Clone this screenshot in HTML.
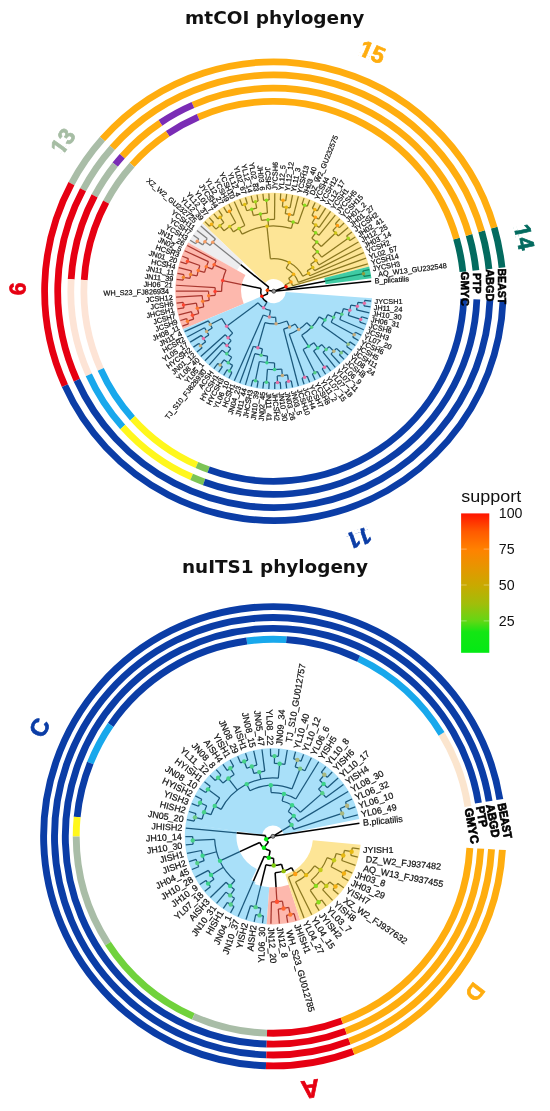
<!DOCTYPE html>
<html lang="en"><head><meta charset="utf-8"><title>mtCOI and nuITS1 phylogeny</title>
<style>html,body{margin:0;padding:0;background:#fff}svg{display:block}text{font-family:"Liberation Sans",Arial,sans-serif}.t{font-family:"DejaVu Sans","Liberation Sans",sans-serif;font-weight:bold}.b{font-family:"Liberation Sans",Arial,sans-serif;font-weight:bold}</style></head><body>
<svg width="550" height="1111" viewBox="0 0 550 1111">
<rect width="550" height="1111" fill="#fff"/>
<text class="t" x="274.75" y="23.8" font-size="18.5" text-anchor="middle" fill="#111">mtCOI phylogeny</text>
<g>
<path d="M501.99 267.7A229.3 229.3 0 0 0 494.21 227.68" stroke="#036B5F" stroke-width="6.75" fill="none"/>
<path d="M494.21 227.68A229.3 229.3 0 0 0 102.43 139.03" stroke="#FFAD0F" stroke-width="6.75" fill="none"/>
<path d="M102.43 139.03A229.3 229.3 0 0 0 71.44 183.62" stroke="#A9BDA7" stroke-width="6.75" fill="none"/>
<path d="M71.44 183.62A229.3 229.3 0 0 0 64.92 385.63" stroke="#E60012" stroke-width="6.75" fill="none"/>
<path d="M64.92 385.63A229.3 229.3 0 0 0 503.02 300.47" stroke="#0B3DA6" stroke-width="6.75" fill="none"/>
<path d="M488.95 269.05A216.2 216.2 0 0 0 481.62 231.31" stroke="#036B5F" stroke-width="6.75" fill="none"/>
<path d="M481.62 231.31A216.2 216.2 0 0 0 112.23 147.73" stroke="#FFAD0F" stroke-width="6.75" fill="none"/>
<path d="M112.23 147.73A216.2 216.2 0 0 0 83.01 189.77" stroke="#A9BDA7" stroke-width="6.75" fill="none"/>
<path d="M83.01 189.77A216.2 216.2 0 0 0 76.85 380.24" stroke="#E60012" stroke-width="6.75" fill="none"/>
<path d="M76.85 380.24A216.2 216.2 0 0 0 489.93 299.95" stroke="#0B3DA6" stroke-width="6.75" fill="none"/>
<path d="M475.92 270.39A203.1 203.1 0 0 0 469.03 234.95" stroke="#036B5F" stroke-width="6.75" fill="none"/>
<path d="M469.03 234.95A203.1 203.1 0 0 0 192.91 105.02" stroke="#FFAD0F" stroke-width="6.75" fill="none"/>
<path d="M192.91 105.02A203.1 203.1 0 0 0 160.33 122.89" stroke="#7A2CB5" stroke-width="6.75" fill="none"/>
<path d="M160.33 122.89A203.1 203.1 0 0 0 122.26 156.16" stroke="#FFAD0F" stroke-width="6.75" fill="none"/>
<path d="M122.26 156.16A203.1 203.1 0 0 0 115.17 164.56" stroke="#7A2CB5" stroke-width="6.75" fill="none"/>
<path d="M115.17 164.56A203.1 203.1 0 0 0 94.57 195.92" stroke="#A9BDA7" stroke-width="6.75" fill="none"/>
<path d="M94.57 195.92A203.1 203.1 0 0 0 71.16 279.22" stroke="#E60012" stroke-width="6.75" fill="none"/>
<path d="M71.16 279.22A203.1 203.1 0 0 0 88.79 374.85" stroke="#FDE4D6" stroke-width="6.75" fill="none"/>
<path d="M88.79 374.85A203.1 203.1 0 0 0 122.73 426.91" stroke="#18A8EC" stroke-width="6.75" fill="none"/>
<path d="M122.73 426.91A203.1 203.1 0 0 0 191.62 476.95" stroke="#FFF71C" stroke-width="6.75" fill="none"/>
<path d="M191.62 476.95A203.1 203.1 0 0 0 204.1 482" stroke="#7CC455" stroke-width="6.75" fill="none"/>
<path d="M204.1 482A203.1 203.1 0 0 0 476.84 299.42" stroke="#0B3DA6" stroke-width="6.75" fill="none"/>
<path d="M462.89 271.74A190 190 0 0 0 456.45 238.58" stroke="#036B5F" stroke-width="6.75" fill="none"/>
<path d="M456.45 238.58A190 190 0 0 0 198.14 117.03" stroke="#FFAD0F" stroke-width="6.75" fill="none"/>
<path d="M198.14 117.03A190 190 0 0 0 167.65 133.75" stroke="#7A2CB5" stroke-width="6.75" fill="none"/>
<path d="M167.65 133.75A190 190 0 0 0 132.04 164.88" stroke="#FFAD0F" stroke-width="6.75" fill="none"/>
<path d="M132.04 164.88A190 190 0 0 0 106.14 202.07" stroke="#A9BDA7" stroke-width="6.75" fill="none"/>
<path d="M106.14 202.07A190 190 0 0 0 84.23 280" stroke="#E60012" stroke-width="6.75" fill="none"/>
<path d="M84.23 280A190 190 0 0 0 100.73 369.46" stroke="#FDE4D6" stroke-width="6.75" fill="none"/>
<path d="M100.73 369.46A190 190 0 0 0 132.48 418.16" stroke="#18A8EC" stroke-width="6.75" fill="none"/>
<path d="M132.48 418.16A190 190 0 0 0 196.92 464.98" stroke="#FFF71C" stroke-width="6.75" fill="none"/>
<path d="M196.92 464.98A190 190 0 0 0 208.6 469.7" stroke="#7CC455" stroke-width="6.75" fill="none"/>
<path d="M208.6 469.7A190 190 0 0 0 463.75 298.9" stroke="#0B3DA6" stroke-width="6.75" fill="none"/>
</g>
<text class="b" transform="translate(498.4 268.5) rotate(90)" font-size="11.4" textLength="35.6" lengthAdjust="spacingAndGlyphs" fill="#000" stroke="#000" stroke-width="0.55">BEAST</text>
<text class="b" transform="translate(485.9 269.2) rotate(90)" font-size="11.4" textLength="32.3" lengthAdjust="spacingAndGlyphs" fill="#000" stroke="#000" stroke-width="0.55">ABGD</text>
<text class="b" transform="translate(472.5 272.9) rotate(90)" font-size="11.4" textLength="20.6" lengthAdjust="spacingAndGlyphs" fill="#000" stroke="#000" stroke-width="0.55">PTP</text>
<text class="b" transform="translate(460.9 271.6) rotate(90)" font-size="11.4" textLength="34.4" lengthAdjust="spacingAndGlyphs" fill="#000" stroke="#000" stroke-width="0.55">GMYC</text>
<g transform="translate(372.5 51.74) rotate(22.4)">
<text class="b" font-size="23" text-anchor="middle" dy="0.36em" fill="#FFAD0F" stroke="#FFAD0F" stroke-width="0.7">15</text>
<rect x="-13.09" y="5.36" width="4.94" height="3.62" fill="#fff"/>
<rect x="-4" y="5.36" width="4.6" height="3.62" fill="#fff"/>
</g>
<g transform="translate(62.6 141.11) rotate(-54.6)">
<text class="b" font-size="23" text-anchor="middle" dy="0.36em" fill="#A6BDA4" stroke="#A6BDA4" stroke-width="0.7">13</text>
<rect x="-13.09" y="5.36" width="4.94" height="3.62" fill="#fff"/>
<rect x="-4" y="5.36" width="4.6" height="3.62" fill="#fff"/>
</g>
<g transform="translate(17.31 288.74) rotate(-89.45)">
<text class="b" font-size="23" text-anchor="middle" dy="0.36em" fill="#E60012" stroke="#E60012" stroke-width="0.7">6</text>
</g>
<g transform="translate(524.51 237) rotate(77.8)">
<text class="b" font-size="23" text-anchor="middle" dy="0.36em" fill="#036B5F" stroke="#036B5F" stroke-width="0.7">14</text>
<rect x="-13.09" y="5.36" width="4.94" height="3.62" fill="#fff"/>
<rect x="-4" y="5.36" width="4.6" height="3.62" fill="#fff"/>
</g>
<g transform="translate(359.09 538.19) rotate(-199.05)">
<text class="b" font-size="23" text-anchor="middle" dy="0.36em" fill="#0B3DA6" stroke="#0B3DA6" stroke-width="0.7">11</text>
<rect x="-13.09" y="5.36" width="4.94" height="3.62" fill="#fff"/>
<rect x="-4" y="5.36" width="4.6" height="3.62" fill="#fff"/>
<rect x="-0.3" y="5.36" width="4.94" height="3.62" fill="#fff"/>
<rect x="8.79" y="5.36" width="4.6" height="3.62" fill="#fff"/>
</g>
<g>
<path d="M369.16 266.52A98.5 98.5 0 0 0 202.41 223.33L265.1 282.93A12 12 0 0 1 285.42 288.19Z" fill="#FDE596" fill-opacity="1"/>
<path d="M371.45 278.27A98.5 98.5 0 0 0 369.16 266.52L324.33 278.12A52.19 52.19 0 0 1 325.54 284.35Z" fill="#3FCBA3" fill-opacity="1"/>
<path d="M202.41 223.33A98.5 98.5 0 0 0 188.17 242.53L236.94 270.25A42.4 42.4 0 0 1 243.07 261.99Z" fill="#EDEDEF" fill-opacity="1"/>
<path d="M188.17 242.53A98.5 98.5 0 0 0 182.89 329.13L243.71 303.75A32.6 32.6 0 0 1 245.46 275.09Z" fill="#FDB8AD" fill-opacity="1"/>
<path d="M182.89 329.13A98.5 98.5 0 0 0 372.05 298.17L285.77 292.05A12 12 0 0 1 262.73 295.82Z" fill="#A9E0F9" fill-opacity="1"/>
</g>
<g fill="none" stroke-linecap="butt">
<path d="M273.8 291.2L371.2 281.31" stroke="#000" stroke-width="1.55"/>
<path d="M273.8 291.2L286.04 286.8" stroke="#000" stroke-width="1.55"/>
<path d="M286.57 288.71A13.01 13.01 0 0 0 285.24 285" stroke="#000" stroke-width="1.55"/>
<path d="M286.57 288.71L325.03 281.22" stroke="#000" stroke-width="1.55"/>
<path d="M325.03 281.22L363.48 273.73" stroke="#0D7F5D" stroke-width="1.25"/>
<path d="M363.97 276.46A91.37 91.37 0 0 0 362.91 271.01" stroke="#0D7F5D" stroke-width="1.25"/>
<path d="M363.97 276.46L370.42 275.41" stroke="#0D7F5D" stroke-width="1.25"/>
<path d="M362.91 271.01L369.28 269.56" stroke="#0D7F5D" stroke-width="1.25"/>
<path d="M285.24 285L285.67 284.76" stroke="#000" stroke-width="1.55"/>
<path d="M285.67 284.76L290.98 281.88" stroke="#8A7720" stroke-width="1.25"/>
<path d="M292.56 285.73A19.54 19.54 0 0 0 288.61 278.46" stroke="#8A7720" stroke-width="1.25"/>
<path d="M292.56 285.73L367.79 263.8" stroke="#8A7720" stroke-width="1.25"/>
<path d="M288.61 278.46L293.56 274.2" stroke="#8A7720" stroke-width="1.25"/>
<path d="M298.34 282.4A26.07 26.07 0 0 0 286.17 268.25" stroke="#8A7720" stroke-width="1.25"/>
<path d="M298.34 282.4L365.95 258.14" stroke="#8A7720" stroke-width="1.25"/>
<path d="M286.17 268.25L289.27 262.5" stroke="#8A7720" stroke-width="1.25"/>
<path d="M302.76 276.24A32.6 32.6 0 0 0 270.38 258.78" stroke="#8A7720" stroke-width="1.25"/>
<path d="M302.76 276.24L308.56 273.24" stroke="#8A7720" stroke-width="1.25"/>
<path d="M309.76 275.77A39.13 39.13 0 0 0 307.19 270.8" stroke="#8A7720" stroke-width="1.25"/>
<path d="M309.76 275.77L363.77 252.6" stroke="#8A7720" stroke-width="1.25"/>
<path d="M307.19 270.8L312.76 267.39" stroke="#8A7720" stroke-width="1.25"/>
<path d="M314.59 270.68A45.66 45.66 0 0 0 310.67 264.27" stroke="#8A7720" stroke-width="1.25"/>
<path d="M314.59 270.68L361.26 247.21" stroke="#8A7720" stroke-width="1.25"/>
<path d="M310.67 264.27L315.94 260.41" stroke="#8A7720" stroke-width="1.25"/>
<path d="M318.91 264.96A52.19 52.19 0 0 0 312.52 256.2" stroke="#8A7720" stroke-width="1.25"/>
<path d="M318.91 264.96L358.42 241.97" stroke="#8A7720" stroke-width="1.25"/>
<path d="M312.52 256.2L317.36 251.83" stroke="#8A7720" stroke-width="1.25"/>
<path d="M321.66 257.17A58.72 58.72 0 0 0 312.47 247.01" stroke="#8A7720" stroke-width="1.25"/>
<path d="M321.66 257.17L348.27 238.25" stroke="#8A7720" stroke-width="1.25"/>
<path d="M349.84 240.54A91.37 91.37 0 0 0 346.62 236.01" stroke="#8A7720" stroke-width="1.25"/>
<path d="M349.84 240.54L355.27 236.92" stroke="#8A7720" stroke-width="1.25"/>
<path d="M346.62 236.01L351.83 232.07" stroke="#8A7720" stroke-width="1.25"/>
<path d="M312.47 247.01L316.77 242.1" stroke="#8A7720" stroke-width="1.25"/>
<path d="M321.32 246.49A65.25 65.25 0 0 0 311.82 238.17" stroke="#8A7720" stroke-width="1.25"/>
<path d="M321.32 246.49L335.59 233.07" stroke="#8A7720" stroke-width="1.25"/>
<path d="M338.18 235.94A84.84 84.84 0 0 0 332.88 230.31" stroke="#8A7720" stroke-width="1.25"/>
<path d="M338.18 235.94L348.09 227.44" stroke="#8A7720" stroke-width="1.25"/>
<path d="M332.88 230.31L337.42 225.62" stroke="#8A7720" stroke-width="1.25"/>
<path d="M339.39 227.59A91.37 91.37 0 0 0 335.4 223.72" stroke="#8A7720" stroke-width="1.25"/>
<path d="M339.39 227.59L344.08 223.04" stroke="#8A7720" stroke-width="1.25"/>
<path d="M335.4 223.72L339.8 218.9" stroke="#8A7720" stroke-width="1.25"/>
<path d="M311.82 238.17L315.63 232.87" stroke="#8A7720" stroke-width="1.25"/>
<path d="M318.88 235.34A71.78 71.78 0 0 0 312.24 230.58" stroke="#8A7720" stroke-width="1.25"/>
<path d="M318.88 235.34L335.29 215.02" stroke="#8A7720" stroke-width="1.25"/>
<path d="M312.24 230.58L315.73 225.06" stroke="#8A7720" stroke-width="1.25"/>
<path d="M319.19 227.39A78.31 78.31 0 0 0 312.16 222.93" stroke="#8A7720" stroke-width="1.25"/>
<path d="M319.19 227.39L330.55 211.42" stroke="#8A7720" stroke-width="1.25"/>
<path d="M312.16 222.93L315.35 217.23" stroke="#8A7720" stroke-width="1.25"/>
<path d="M318.68 219.2A84.84 84.84 0 0 0 311.94 215.42" stroke="#8A7720" stroke-width="1.25"/>
<path d="M318.68 219.2L325.59 208.12" stroke="#8A7720" stroke-width="1.25"/>
<path d="M311.94 215.42L314.87 209.58" stroke="#8A7720" stroke-width="1.25"/>
<path d="M317.34 210.87A91.37 91.37 0 0 0 312.37 208.37" stroke="#8A7720" stroke-width="1.25"/>
<path d="M317.34 210.87L320.45 205.13" stroke="#8A7720" stroke-width="1.25"/>
<path d="M312.37 208.37L315.13 202.45" stroke="#8A7720" stroke-width="1.25"/>
<path d="M270.38 258.78L266.96 226.31" stroke="#8A7720" stroke-width="1.25"/>
<path d="M291.36 228.36A65.25 65.25 0 0 0 242.14 234.15" stroke="#8A7720" stroke-width="1.25"/>
<path d="M291.36 228.36L293.11 222.07" stroke="#8A7720" stroke-width="1.25"/>
<path d="M298.05 223.64A71.78 71.78 0 0 0 288.08 220.85" stroke="#8A7720" stroke-width="1.25"/>
<path d="M298.05 223.64L304.67 205.2" stroke="#8A7720" stroke-width="1.25"/>
<path d="M307.27 206.18A91.37 91.37 0 0 0 302.04 204.3" stroke="#8A7720" stroke-width="1.25"/>
<path d="M307.27 206.18L309.66 200.1" stroke="#8A7720" stroke-width="1.25"/>
<path d="M302.04 204.3L304.06 198.09" stroke="#8A7720" stroke-width="1.25"/>
<path d="M288.08 220.85L289.37 214.45" stroke="#8A7720" stroke-width="1.25"/>
<path d="M293.43 215.39A78.31 78.31 0 0 0 285.27 213.73" stroke="#8A7720" stroke-width="1.25"/>
<path d="M293.43 215.39L298.35 196.43" stroke="#8A7720" stroke-width="1.25"/>
<path d="M285.27 213.73L286.23 207.28" stroke="#8A7720" stroke-width="1.25"/>
<path d="M290.04 207.93A84.84 84.84 0 0 0 282.39 206.8" stroke="#8A7720" stroke-width="1.25"/>
<path d="M290.04 207.93L292.54 195.11" stroke="#8A7720" stroke-width="1.25"/>
<path d="M282.39 206.8L283.05 200.3" stroke="#8A7720" stroke-width="1.25"/>
<path d="M285.81 200.62A91.37 91.37 0 0 0 280.28 200.06" stroke="#8A7720" stroke-width="1.25"/>
<path d="M285.81 200.62L286.67 194.15" stroke="#8A7720" stroke-width="1.25"/>
<path d="M280.28 200.06L280.75 193.55" stroke="#8A7720" stroke-width="1.25"/>
<path d="M268.52 226.16L267.99 219.66" stroke="#8A7720" stroke-width="1.25"/>
<path d="M274.53 219.42A71.78 71.78 0 0 0 261.5 220.48" stroke="#8A7720" stroke-width="1.25"/>
<path d="M274.53 219.42L274.8 193.31" stroke="#8A7720" stroke-width="1.25"/>
<path d="M261.5 220.48L260.38 214.05" stroke="#8A7720" stroke-width="1.25"/>
<path d="M267.46 213.15A78.31 78.31 0 0 0 253.41 215.59" stroke="#8A7720" stroke-width="1.25"/>
<path d="M267.46 213.15L266.41 200.13" stroke="#8A7720" stroke-width="1.25"/>
<path d="M269.18 199.95A91.37 91.37 0 0 0 263.64 200.4" stroke="#8A7720" stroke-width="1.25"/>
<path d="M269.18 199.95L268.85 193.43" stroke="#8A7720" stroke-width="1.25"/>
<path d="M263.64 200.4L262.91 193.91" stroke="#8A7720" stroke-width="1.25"/>
<path d="M253.41 215.59L251.71 209.29" stroke="#8A7720" stroke-width="1.25"/>
<path d="M256.73 208.1A84.84 84.84 0 0 0 246.77 210.78" stroke="#8A7720" stroke-width="1.25"/>
<path d="M256.73 208.1L255.41 201.7" stroke="#8A7720" stroke-width="1.25"/>
<path d="M258.14 201.18A91.37 91.37 0 0 0 252.7 202.3" stroke="#8A7720" stroke-width="1.25"/>
<path d="M258.14 201.18L257.02 194.75" stroke="#8A7720" stroke-width="1.25"/>
<path d="M252.7 202.3L251.19 195.95" stroke="#8A7720" stroke-width="1.25"/>
<path d="M246.77 210.78L244.69 204.59" stroke="#8A7720" stroke-width="1.25"/>
<path d="M247.34 203.75A91.37 91.37 0 0 0 242.07 205.52" stroke="#8A7720" stroke-width="1.25"/>
<path d="M247.34 203.75L245.44 197.5" stroke="#8A7720" stroke-width="1.25"/>
<path d="M242.07 205.52L239.8 199.39" stroke="#8A7720" stroke-width="1.25"/>
<path d="M242.14 234.15L238.97 228.44" stroke="#8A7720" stroke-width="1.25"/>
<path d="M244.83 225.53A71.78 71.78 0 0 0 233.4 231.87" stroke="#8A7720" stroke-width="1.25"/>
<path d="M244.83 225.53L234.29 201.63" stroke="#8A7720" stroke-width="1.25"/>
<path d="M233.4 231.87L229.72 226.47" stroke="#8A7720" stroke-width="1.25"/>
<path d="M235.8 222.73A78.31 78.31 0 0 0 224.01 230.76" stroke="#8A7720" stroke-width="1.25"/>
<path d="M235.8 222.73L229.46 211.31" stroke="#8A7720" stroke-width="1.25"/>
<path d="M231.91 210A91.37 91.37 0 0 0 227.05 212.69" stroke="#8A7720" stroke-width="1.25"/>
<path d="M231.91 210L228.92 204.19" stroke="#8A7720" stroke-width="1.25"/>
<path d="M227.05 212.69L223.71 207.08" stroke="#8A7720" stroke-width="1.25"/>
<path d="M224.01 230.76L219.86 225.72" stroke="#8A7720" stroke-width="1.25"/>
<path d="M223.93 222.56A84.84 84.84 0 0 0 215.98 229.12" stroke="#8A7720" stroke-width="1.25"/>
<path d="M223.93 222.56L220.1 217.28" stroke="#8A7720" stroke-width="1.25"/>
<path d="M222.37 215.68A91.37 91.37 0 0 0 217.87 218.94" stroke="#8A7720" stroke-width="1.25"/>
<path d="M222.37 215.68L218.69 210.28" stroke="#8A7720" stroke-width="1.25"/>
<path d="M217.87 218.94L213.88 213.78" stroke="#8A7720" stroke-width="1.25"/>
<path d="M215.98 229.12L211.53 224.34" stroke="#8A7720" stroke-width="1.25"/>
<path d="M213.59 222.48A91.37 91.37 0 0 0 209.52 226.26" stroke="#8A7720" stroke-width="1.25"/>
<path d="M213.59 222.48L209.28 217.57" stroke="#8A7720" stroke-width="1.25"/>
<path d="M209.52 226.26L204.93 221.62" stroke="#8A7720" stroke-width="1.25"/>
<path d="M273.8 291.2L267.38 290.33" stroke="#000" stroke-width="1.55"/>
<path d="M268.75 287.14A6.48 6.48 0 0 0 267.85 293.76" stroke="#000" stroke-width="1.55"/>
<path d="M268.75 287.14L240.74 264.66" stroke="#000" stroke-width="1.55"/>
<path d="M240.74 264.66L212.74 242.17" stroke="#7d7d7d" stroke-width="1.25"/>
<path d="M215.43 239A78.31 78.31 0 0 0 210.21 245.49" stroke="#7d7d7d" stroke-width="1.25"/>
<path d="M215.43 239L200.83 225.94" stroke="#7d7d7d" stroke-width="1.25"/>
<path d="M210.21 245.49L204.91 241.68" stroke="#7d7d7d" stroke-width="1.25"/>
<path d="M207.24 238.59A84.84 84.84 0 0 0 202.73 244.87" stroke="#7d7d7d" stroke-width="1.25"/>
<path d="M207.24 238.59L197 230.49" stroke="#7d7d7d" stroke-width="1.25"/>
<path d="M202.73 244.87L197.26 241.31" stroke="#7d7d7d" stroke-width="1.25"/>
<path d="M198.81 239A91.37 91.37 0 0 0 195.77 243.66" stroke="#7d7d7d" stroke-width="1.25"/>
<path d="M198.81 239L193.45 235.27" stroke="#7d7d7d" stroke-width="1.25"/>
<path d="M195.77 243.66L190.2 240.26" stroke="#7d7d7d" stroke-width="1.25"/>
<path d="M267.85 293.76L261.85 296.34" stroke="#000" stroke-width="1.55"/>
<path d="M261.06 288.54A13.01 13.01 0 0 0 266.97 302.27" stroke="#000" stroke-width="1.55"/>
<path d="M261.06 288.54L241.89 284.54" stroke="#000" stroke-width="1.55"/>
<path d="M241.89 284.54L222.71 280.54" stroke="#A8362E" stroke-width="1.25"/>
<path d="M226.06 270.1A52.19 52.19 0 0 0 221.61 291.45" stroke="#A8362E" stroke-width="1.25"/>
<path d="M226.06 270.1L214.12 264.82" stroke="#A8362E" stroke-width="1.25"/>
<path d="M216.12 260.7A65.25 65.25 0 0 0 212.41 269.08" stroke="#A8362E" stroke-width="1.25"/>
<path d="M216.12 260.7L187.26 245.43" stroke="#A8362E" stroke-width="1.25"/>
<path d="M212.41 269.08L206.27 266.87" stroke="#A8362E" stroke-width="1.25"/>
<path d="M208.42 261.56A71.78 71.78 0 0 0 204.55 272.33" stroke="#A8362E" stroke-width="1.25"/>
<path d="M208.42 261.56L184.64 250.78" stroke="#A8362E" stroke-width="1.25"/>
<path d="M204.55 272.33L198.24 270.61" stroke="#A8362E" stroke-width="1.25"/>
<path d="M199.83 265.5A78.31 78.31 0 0 0 197.01 275.82" stroke="#A8362E" stroke-width="1.25"/>
<path d="M199.83 265.5L187.49 261.21" stroke="#A8362E" stroke-width="1.25"/>
<path d="M188.44 258.6A91.37 91.37 0 0 0 186.62 263.85" stroke="#A8362E" stroke-width="1.25"/>
<path d="M188.44 258.6L182.34 256.27" stroke="#A8362E" stroke-width="1.25"/>
<path d="M186.62 263.85L180.39 261.89" stroke="#A8362E" stroke-width="1.25"/>
<path d="M197.01 275.82L190.61 274.54" stroke="#A8362E" stroke-width="1.25"/>
<path d="M191.46 270.77A84.84 84.84 0 0 0 189.94 278.35" stroke="#A8362E" stroke-width="1.25"/>
<path d="M191.46 270.77L178.78 267.62" stroke="#A8362E" stroke-width="1.25"/>
<path d="M189.94 278.35L183.48 277.36" stroke="#A8362E" stroke-width="1.25"/>
<path d="M183.95 274.62A91.37 91.37 0 0 0 183.1 280.12" stroke="#A8362E" stroke-width="1.25"/>
<path d="M183.95 274.62L177.52 273.44" stroke="#A8362E" stroke-width="1.25"/>
<path d="M183.1 280.12L176.62 279.32" stroke="#A8362E" stroke-width="1.25"/>
<path d="M221.61 291.45L215.08 291.48" stroke="#A8362E" stroke-width="1.25"/>
<path d="M215.19 287.63A58.72 58.72 0 0 0 215.23 295.33" stroke="#A8362E" stroke-width="1.25"/>
<path d="M215.19 287.63L176.08 285.25" stroke="#A8362E" stroke-width="1.25"/>
<path d="M215.23 295.33L208.71 295.78" stroke="#A8362E" stroke-width="1.25"/>
<path d="M208.55 291.2A65.25 65.25 0 0 0 209.19 300.35" stroke="#A8362E" stroke-width="1.25"/>
<path d="M208.55 291.2L175.9 291.2" stroke="#A8362E" stroke-width="1.25"/>
<path d="M209.19 300.35L202.73 301.26" stroke="#A8362E" stroke-width="1.25"/>
<path d="M202.15 295.56A71.78 71.78 0 0 0 203.76 306.89" stroke="#A8362E" stroke-width="1.25"/>
<path d="M202.15 295.56L176.08 297.15" stroke="#A8362E" stroke-width="1.25"/>
<path d="M203.76 306.89L197.38 308.32" stroke="#A8362E" stroke-width="1.25"/>
<path d="M196.39 303.06A78.31 78.31 0 0 0 198.73 313.51" stroke="#A8362E" stroke-width="1.25"/>
<path d="M196.39 303.06L183.48 305.04" stroke="#A8362E" stroke-width="1.25"/>
<path d="M183.1 302.28A91.37 91.37 0 0 0 183.95 307.78" stroke="#A8362E" stroke-width="1.25"/>
<path d="M183.1 302.28L176.62 303.08" stroke="#A8362E" stroke-width="1.25"/>
<path d="M183.95 307.78L177.52 308.96" stroke="#A8362E" stroke-width="1.25"/>
<path d="M198.73 313.51L192.47 315.37" stroke="#A8362E" stroke-width="1.25"/>
<path d="M191.46 311.63A84.84 84.84 0 0 0 193.66 319.05" stroke="#A8362E" stroke-width="1.25"/>
<path d="M191.46 311.63L178.78 314.78" stroke="#A8362E" stroke-width="1.25"/>
<path d="M193.66 319.05L187.49 321.19" stroke="#A8362E" stroke-width="1.25"/>
<path d="M186.62 318.55A91.37 91.37 0 0 0 188.44 323.8" stroke="#A8362E" stroke-width="1.25"/>
<path d="M186.62 318.55L180.39 320.51" stroke="#A8362E" stroke-width="1.25"/>
<path d="M188.44 323.8L182.34 326.13" stroke="#A8362E" stroke-width="1.25"/>
<path d="M266.97 302.27L266.72 302.69" stroke="#000" stroke-width="1.55"/>
<path d="M266.72 302.69L263.55 307.83" stroke="#1B587C" stroke-width="1.25"/>
<path d="M258.11 302.85A19.54 19.54 0 0 0 270.44 310.45" stroke="#1B587C" stroke-width="1.25"/>
<path d="M258.11 302.85L226.65 326.2" stroke="#1B587C" stroke-width="1.25"/>
<path d="M221.79 318.45A58.72 58.72 0 0 0 232.65 333.09" stroke="#1B587C" stroke-width="1.25"/>
<path d="M221.79 318.45L210.22 324.52" stroke="#1B587C" stroke-width="1.25"/>
<path d="M208.42 320.84A71.78 71.78 0 0 0 212.22 328.08" stroke="#1B587C" stroke-width="1.25"/>
<path d="M208.42 320.84L184.64 331.62" stroke="#1B587C" stroke-width="1.25"/>
<path d="M212.22 328.08L206.62 331.44" stroke="#1B587C" stroke-width="1.25"/>
<path d="M204.57 327.81A78.31 78.31 0 0 0 208.85 334.96" stroke="#1B587C" stroke-width="1.25"/>
<path d="M204.57 327.81L187.26 336.97" stroke="#1B587C" stroke-width="1.25"/>
<path d="M208.85 334.96L203.44 338.6" stroke="#1B587C" stroke-width="1.25"/>
<path d="M201.35 335.35A84.84 84.84 0 0 0 205.67 341.76" stroke="#1B587C" stroke-width="1.25"/>
<path d="M201.35 335.35L190.2 342.14" stroke="#1B587C" stroke-width="1.25"/>
<path d="M205.67 341.76L200.43 345.65" stroke="#1B587C" stroke-width="1.25"/>
<path d="M198.81 343.4A91.37 91.37 0 0 0 202.12 347.86" stroke="#1B587C" stroke-width="1.25"/>
<path d="M198.81 343.4L193.45 347.13" stroke="#1B587C" stroke-width="1.25"/>
<path d="M202.12 347.86L197 351.91" stroke="#1B587C" stroke-width="1.25"/>
<path d="M232.65 333.09L228.07 337.75" stroke="#1B587C" stroke-width="1.25"/>
<path d="M225.16 334.7A65.25 65.25 0 0 0 231.17 340.6" stroke="#1B587C" stroke-width="1.25"/>
<path d="M225.16 334.7L200.83 356.46" stroke="#1B587C" stroke-width="1.25"/>
<path d="M231.17 340.6L226.91 345.55" stroke="#1B587C" stroke-width="1.25"/>
<path d="M223.3 342.21A71.78 71.78 0 0 0 230.73 348.62" stroke="#1B587C" stroke-width="1.25"/>
<path d="M223.3 342.21L204.93 360.78" stroke="#1B587C" stroke-width="1.25"/>
<path d="M230.73 348.62L226.81 353.85" stroke="#1B587C" stroke-width="1.25"/>
<path d="M222.19 350.1A78.31 78.31 0 0 0 231.71 357.24" stroke="#1B587C" stroke-width="1.25"/>
<path d="M222.19 350.1L209.28 364.83" stroke="#1B587C" stroke-width="1.25"/>
<path d="M231.71 357.24L228.2 362.74" stroke="#1B587C" stroke-width="1.25"/>
<path d="M223.93 359.84A84.84 84.84 0 0 0 232.63 365.38" stroke="#1B587C" stroke-width="1.25"/>
<path d="M223.93 359.84L220.1 365.12" stroke="#1B587C" stroke-width="1.25"/>
<path d="M217.87 363.46A91.37 91.37 0 0 0 222.37 366.72" stroke="#1B587C" stroke-width="1.25"/>
<path d="M217.87 363.46L213.88 368.62" stroke="#1B587C" stroke-width="1.25"/>
<path d="M222.37 366.72L218.69 372.12" stroke="#1B587C" stroke-width="1.25"/>
<path d="M232.63 365.38L229.46 371.09" stroke="#1B587C" stroke-width="1.25"/>
<path d="M227.05 369.71A91.37 91.37 0 0 0 231.91 372.4" stroke="#1B587C" stroke-width="1.25"/>
<path d="M227.05 369.71L223.71 375.32" stroke="#1B587C" stroke-width="1.25"/>
<path d="M231.91 372.4L228.92 378.21" stroke="#1B587C" stroke-width="1.25"/>
<path d="M270.44 310.45L269.32 316.88" stroke="#1B587C" stroke-width="1.25"/>
<path d="M263.28 315.05A26.07 26.07 0 0 0 275.63 317.21" stroke="#1B587C" stroke-width="1.25"/>
<path d="M263.28 315.05L234.29 380.77" stroke="#1B587C" stroke-width="1.25"/>
<path d="M275.63 317.21L276.09 323.72" stroke="#1B587C" stroke-width="1.25"/>
<path d="M264.95 322.58A32.6 32.6 0 0 0 286.95 321.03" stroke="#1B587C" stroke-width="1.25"/>
<path d="M264.95 322.58L257.86 347.72" stroke="#1B587C" stroke-width="1.25"/>
<path d="M253.41 346.27A58.72 58.72 0 0 0 262.42 348.81" stroke="#1B587C" stroke-width="1.25"/>
<path d="M253.41 346.27L239.8 383.01" stroke="#1B587C" stroke-width="1.25"/>
<path d="M262.42 348.81L261.15 355.21" stroke="#1B587C" stroke-width="1.25"/>
<path d="M254.9 353.65A65.25 65.25 0 0 0 267.53 356.15" stroke="#1B587C" stroke-width="1.25"/>
<path d="M254.9 353.65L245.44 384.9" stroke="#1B587C" stroke-width="1.25"/>
<path d="M267.53 356.15L266.9 362.65" stroke="#1B587C" stroke-width="1.25"/>
<path d="M259.35 361.51A71.78 71.78 0 0 0 274.53 362.98" stroke="#1B587C" stroke-width="1.25"/>
<path d="M259.35 361.51L255.41 380.7" stroke="#1B587C" stroke-width="1.25"/>
<path d="M252.7 380.1A91.37 91.37 0 0 0 258.14 381.22" stroke="#1B587C" stroke-width="1.25"/>
<path d="M252.7 380.1L251.19 386.45" stroke="#1B587C" stroke-width="1.25"/>
<path d="M258.14 381.22L257.02 387.65" stroke="#1B587C" stroke-width="1.25"/>
<path d="M274.53 362.98L274.6 369.51" stroke="#1B587C" stroke-width="1.25"/>
<path d="M267.46 369.25A78.31 78.31 0 0 0 281.73 369.11" stroke="#1B587C" stroke-width="1.25"/>
<path d="M267.46 369.25L266.41 382.27" stroke="#1B587C" stroke-width="1.25"/>
<path d="M263.64 382A91.37 91.37 0 0 0 269.18 382.45" stroke="#1B587C" stroke-width="1.25"/>
<path d="M263.64 382L262.91 388.49" stroke="#1B587C" stroke-width="1.25"/>
<path d="M269.18 382.45L268.85 388.97" stroke="#1B587C" stroke-width="1.25"/>
<path d="M281.73 369.11L282.39 375.6" stroke="#1B587C" stroke-width="1.25"/>
<path d="M277.24 375.97A84.84 84.84 0 0 0 287.5 374.93" stroke="#1B587C" stroke-width="1.25"/>
<path d="M277.24 375.97L277.51 382.49" stroke="#1B587C" stroke-width="1.25"/>
<path d="M274.73 382.57A91.37 91.37 0 0 0 280.28 382.34" stroke="#1B587C" stroke-width="1.25"/>
<path d="M274.73 382.57L274.8 389.09" stroke="#1B587C" stroke-width="1.25"/>
<path d="M280.28 382.34L280.75 388.85" stroke="#1B587C" stroke-width="1.25"/>
<path d="M287.5 374.93L288.56 381.37" stroke="#1B587C" stroke-width="1.25"/>
<path d="M285.81 381.78A91.37 91.37 0 0 0 291.29 380.88" stroke="#1B587C" stroke-width="1.25"/>
<path d="M285.81 381.78L286.67 388.25" stroke="#1B587C" stroke-width="1.25"/>
<path d="M291.29 380.88L292.54 387.29" stroke="#1B587C" stroke-width="1.25"/>
<path d="M286.95 321.03L289.59 327" stroke="#1B587C" stroke-width="1.25"/>
<path d="M283.61 329.08A39.13 39.13 0 0 0 295.15 323.99" stroke="#1B587C" stroke-width="1.25"/>
<path d="M283.61 329.08L298.35 385.97" stroke="#1B587C" stroke-width="1.25"/>
<path d="M295.15 323.99L298.71 329.46" stroke="#1B587C" stroke-width="1.25"/>
<path d="M289.23 334.18A45.66 45.66 0 0 0 306.86 322.69" stroke="#1B587C" stroke-width="1.25"/>
<path d="M289.23 334.18L304.67 377.2" stroke="#1B587C" stroke-width="1.25"/>
<path d="M302.04 378.1A91.37 91.37 0 0 0 307.27 376.22" stroke="#1B587C" stroke-width="1.25"/>
<path d="M302.04 378.1L304.06 384.31" stroke="#1B587C" stroke-width="1.25"/>
<path d="M307.27 376.22L309.66 382.3" stroke="#1B587C" stroke-width="1.25"/>
<path d="M306.86 322.69L311.59 327.2" stroke="#1B587C" stroke-width="1.25"/>
<path d="M301.66 335.33A52.19 52.19 0 0 0 319.23 316.88" stroke="#1B587C" stroke-width="1.25"/>
<path d="M301.66 335.33L308.63 346.37" stroke="#1B587C" stroke-width="1.25"/>
<path d="M303.13 349.49A65.25 65.25 0 0 0 313.81 342.74" stroke="#1B587C" stroke-width="1.25"/>
<path d="M303.13 349.49L314.87 372.82" stroke="#1B587C" stroke-width="1.25"/>
<path d="M312.37 374.03A91.37 91.37 0 0 0 317.34 371.53" stroke="#1B587C" stroke-width="1.25"/>
<path d="M312.37 374.03L315.13 379.95" stroke="#1B587C" stroke-width="1.25"/>
<path d="M317.34 371.53L320.45 377.27" stroke="#1B587C" stroke-width="1.25"/>
<path d="M313.81 342.74L317.81 347.9" stroke="#1B587C" stroke-width="1.25"/>
<path d="M313.61 350.93A71.78 71.78 0 0 0 321.79 344.58" stroke="#1B587C" stroke-width="1.25"/>
<path d="M313.61 350.93L324.47 367.23" stroke="#1B587C" stroke-width="1.25"/>
<path d="M322.14 368.74A91.37 91.37 0 0 0 326.76 365.66" stroke="#1B587C" stroke-width="1.25"/>
<path d="M322.14 368.74L325.59 374.28" stroke="#1B587C" stroke-width="1.25"/>
<path d="M326.76 365.66L330.55 370.98" stroke="#1B587C" stroke-width="1.25"/>
<path d="M321.79 344.58L326.16 349.44" stroke="#1B587C" stroke-width="1.25"/>
<path d="M322.98 352.14A78.31 78.31 0 0 0 329.18 346.57" stroke="#1B587C" stroke-width="1.25"/>
<path d="M322.98 352.14L335.29 367.38" stroke="#1B587C" stroke-width="1.25"/>
<path d="M329.18 346.57L333.8 351.19" stroke="#1B587C" stroke-width="1.25"/>
<path d="M331 353.86A84.84 84.84 0 0 0 336.47 348.39" stroke="#1B587C" stroke-width="1.25"/>
<path d="M331 353.86L339.8 363.5" stroke="#1B587C" stroke-width="1.25"/>
<path d="M336.47 348.39L341.29 352.79" stroke="#1B587C" stroke-width="1.25"/>
<path d="M339.39 354.81A91.37 91.37 0 0 0 343.13 350.71" stroke="#1B587C" stroke-width="1.25"/>
<path d="M339.39 354.81L344.08 359.36" stroke="#1B587C" stroke-width="1.25"/>
<path d="M343.13 350.71L348.09 354.96" stroke="#1B587C" stroke-width="1.25"/>
<path d="M319.23 316.88L324.92 320.1" stroke="#1B587C" stroke-width="1.25"/>
<path d="M321.66 325.23A58.72 58.72 0 0 0 327.63 314.66" stroke="#1B587C" stroke-width="1.25"/>
<path d="M321.66 325.23L348.27 344.15" stroke="#1B587C" stroke-width="1.25"/>
<path d="M346.62 346.39A91.37 91.37 0 0 0 349.84 341.86" stroke="#1B587C" stroke-width="1.25"/>
<path d="M346.62 346.39L351.83 350.33" stroke="#1B587C" stroke-width="1.25"/>
<path d="M349.84 341.86L355.27 345.48" stroke="#1B587C" stroke-width="1.25"/>
<path d="M327.63 314.66L333.62 317.27" stroke="#1B587C" stroke-width="1.25"/>
<path d="M331.17 322.28A65.25 65.25 0 0 0 335.62 312.06" stroke="#1B587C" stroke-width="1.25"/>
<path d="M331.17 322.28L354.14 334.72" stroke="#1B587C" stroke-width="1.25"/>
<path d="M352.78 337.14A91.37 91.37 0 0 0 355.42 332.26" stroke="#1B587C" stroke-width="1.25"/>
<path d="M352.78 337.14L358.42 340.43" stroke="#1B587C" stroke-width="1.25"/>
<path d="M355.42 332.26L361.26 335.19" stroke="#1B587C" stroke-width="1.25"/>
<path d="M335.62 312.06L341.81 314.15" stroke="#1B587C" stroke-width="1.25"/>
<path d="M339.77 319.5A71.78 71.78 0 0 0 343.43 308.66" stroke="#1B587C" stroke-width="1.25"/>
<path d="M339.77 319.5L363.77 329.8" stroke="#1B587C" stroke-width="1.25"/>
<path d="M343.43 308.66L349.76 310.24" stroke="#1B587C" stroke-width="1.25"/>
<path d="M348.28 315.39A78.31 78.31 0 0 0 350.88 305.01" stroke="#1B587C" stroke-width="1.25"/>
<path d="M348.28 315.39L360.7 319.43" stroke="#1B587C" stroke-width="1.25"/>
<path d="M359.8 322.05A91.37 91.37 0 0 0 361.52 316.77" stroke="#1B587C" stroke-width="1.25"/>
<path d="M359.8 322.05L365.95 324.26" stroke="#1B587C" stroke-width="1.25"/>
<path d="M361.52 316.77L367.79 318.6" stroke="#1B587C" stroke-width="1.25"/>
<path d="M350.88 305.01L357.31 306.16" stroke="#1B587C" stroke-width="1.25"/>
<path d="M356.54 309.95A84.84 84.84 0 0 0 357.91 302.34" stroke="#1B587C" stroke-width="1.25"/>
<path d="M356.54 309.95L369.28 312.84" stroke="#1B587C" stroke-width="1.25"/>
<path d="M357.91 302.34L364.38 303.19" stroke="#1B587C" stroke-width="1.25"/>
<path d="M363.97 305.94A91.37 91.37 0 0 0 364.7 300.43" stroke="#1B587C" stroke-width="1.25"/>
<path d="M363.97 305.94L370.42 306.99" stroke="#1B587C" stroke-width="1.25"/>
<path d="M364.7 300.43L371.2 301.09" stroke="#1B587C" stroke-width="1.25"/>
</g>
<g>
<circle cx="363.48" cy="273.73" r="1.75" fill="#8f9c3e"/>
<circle cx="348.27" cy="238.25" r="1.75" fill="#a8d71d"/>
<circle cx="337.42" cy="225.62" r="1.75" fill="#ff9e12"/>
<circle cx="335.59" cy="233.07" r="1.75" fill="#cfc616"/>
<circle cx="314.87" cy="209.58" r="1.75" fill="#f1b312"/>
<circle cx="315.35" cy="217.23" r="1.75" fill="#ffa212"/>
<circle cx="315.73" cy="225.06" r="1.75" fill="#e0be12"/>
<circle cx="315.63" cy="232.87" r="1.75" fill="#88dd1d"/>
<circle cx="316.77" cy="242.1" r="1.75" fill="#88dd1d"/>
<circle cx="317.36" cy="251.83" r="1.75" fill="#88dd1d"/>
<circle cx="315.94" cy="260.41" r="1.75" fill="#e7b912"/>
<circle cx="312.76" cy="267.39" r="1.75" fill="#e0be12"/>
<circle cx="308.56" cy="273.24" r="1.75" fill="#e7b912"/>
<circle cx="304.67" cy="205.2" r="1.75" fill="#88dd1d"/>
<circle cx="283.05" cy="200.3" r="1.75" fill="#ffa712"/>
<circle cx="286.23" cy="207.28" r="1.75" fill="#e7b912"/>
<circle cx="289.37" cy="214.45" r="1.75" fill="#ffa712"/>
<circle cx="293.11" cy="222.07" r="1.75" fill="#88dd1d"/>
<circle cx="266.41" cy="200.13" r="1.75" fill="#88dd1d"/>
<circle cx="255.41" cy="201.7" r="1.75" fill="#a8d71d"/>
<circle cx="244.69" cy="204.59" r="1.75" fill="#e0be12"/>
<circle cx="251.71" cy="209.29" r="1.75" fill="#88dd1d"/>
<circle cx="260.38" cy="214.05" r="1.75" fill="#88dd1d"/>
<circle cx="267.99" cy="219.66" r="1.75" fill="#88dd1d"/>
<circle cx="229.46" cy="211.31" r="1.75" fill="#ff9e12"/>
<circle cx="220.1" cy="217.28" r="1.75" fill="#e7b912"/>
<circle cx="211.53" cy="224.34" r="1.75" fill="#f4b012"/>
<circle cx="219.86" cy="225.72" r="1.75" fill="#cfc616"/>
<circle cx="229.72" cy="226.47" r="1.75" fill="#cfc616"/>
<circle cx="238.97" cy="228.44" r="1.75" fill="#a8d71d"/>
<circle cx="266.96" cy="226.31" r="1.75" fill="#e0be12"/>
<circle cx="289.27" cy="262.5" r="1.75" fill="#e7b912"/>
<circle cx="293.56" cy="274.2" r="1.75" fill="#f4b012"/>
<circle cx="290.98" cy="281.88" r="1.75" fill="#ff9e12"/>
<circle cx="286.04" cy="286.8" r="1.75" fill="#ff1400"/>
<circle cx="197.26" cy="241.31" r="1.75" fill="#f39b64"/>
<circle cx="204.91" cy="241.68" r="1.75" fill="#f39b64"/>
<circle cx="212.74" cy="242.17" r="1.75" fill="#f39b64"/>
<circle cx="187.49" cy="261.21" r="1.75" fill="#ff4f30"/>
<circle cx="183.48" cy="277.36" r="1.75" fill="#f18930"/>
<circle cx="190.61" cy="274.54" r="1.75" fill="#f48630"/>
<circle cx="198.24" cy="270.61" r="1.75" fill="#ff7830"/>
<circle cx="206.27" cy="266.87" r="1.75" fill="#ff7830"/>
<circle cx="214.12" cy="264.82" r="1.75" fill="#ff6430"/>
<circle cx="183.48" cy="305.04" r="1.75" fill="#ff4630"/>
<circle cx="187.49" cy="321.19" r="1.75" fill="#ff7e30"/>
<circle cx="192.47" cy="315.37" r="1.75" fill="#ff4f30"/>
<circle cx="197.38" cy="308.32" r="1.75" fill="#ff7830"/>
<circle cx="202.73" cy="301.26" r="1.75" fill="#fc8030"/>
<circle cx="208.71" cy="295.78" r="1.75" fill="#ff7e30"/>
<circle cx="215.08" cy="291.48" r="1.75" fill="#ff4030"/>
<circle cx="222.71" cy="280.54" r="1.75" fill="#ff4030"/>
<circle cx="200.43" cy="345.65" r="1.75" fill="#c4ac7b"/>
<circle cx="203.44" cy="338.6" r="1.75" fill="#e470a5"/>
<circle cx="206.62" cy="331.44" r="1.75" fill="#c4ac7b"/>
<circle cx="210.22" cy="324.52" r="1.75" fill="#c4ac7b"/>
<circle cx="220.1" cy="365.12" r="1.75" fill="#bbb07c"/>
<circle cx="229.46" cy="371.09" r="1.75" fill="#47d189"/>
<circle cx="228.2" cy="362.74" r="1.75" fill="#47d189"/>
<circle cx="226.81" cy="353.85" r="1.75" fill="#47d189"/>
<circle cx="226.91" cy="345.55" r="1.75" fill="#e470a5"/>
<circle cx="228.07" cy="337.75" r="1.75" fill="#e470a5"/>
<circle cx="226.65" cy="326.2" r="1.75" fill="#e470a5"/>
<circle cx="255.41" cy="380.7" r="1.75" fill="#47d189"/>
<circle cx="266.41" cy="382.27" r="1.75" fill="#47d189"/>
<circle cx="277.51" cy="382.49" r="1.75" fill="#e470a5"/>
<circle cx="288.56" cy="381.37" r="1.75" fill="#e470a5"/>
<circle cx="282.39" cy="375.6" r="1.75" fill="#c4ac7b"/>
<circle cx="274.6" cy="369.51" r="1.75" fill="#3bd38a"/>
<circle cx="266.9" cy="362.65" r="1.75" fill="#3bd38a"/>
<circle cx="261.15" cy="355.21" r="1.75" fill="#53cf88"/>
<circle cx="257.86" cy="347.72" r="1.75" fill="#e470a5"/>
<circle cx="304.67" cy="377.2" r="1.75" fill="#e470a5"/>
<circle cx="314.87" cy="372.82" r="1.75" fill="#53cf88"/>
<circle cx="324.47" cy="367.23" r="1.75" fill="#e470a5"/>
<circle cx="341.29" cy="352.79" r="1.75" fill="#79c684"/>
<circle cx="333.8" cy="351.19" r="1.75" fill="#bbb07c"/>
<circle cx="326.16" cy="349.44" r="1.75" fill="#53cf88"/>
<circle cx="317.81" cy="347.9" r="1.75" fill="#3bd38a"/>
<circle cx="308.63" cy="346.37" r="1.75" fill="#3bd38a"/>
<circle cx="348.27" cy="344.15" r="1.75" fill="#93bf81"/>
<circle cx="354.14" cy="334.72" r="1.75" fill="#c4ac7b"/>
<circle cx="360.7" cy="319.43" r="1.75" fill="#e470a5"/>
<circle cx="364.38" cy="303.19" r="1.75" fill="#e470a5"/>
<circle cx="357.31" cy="306.16" r="1.75" fill="#e470a5"/>
<circle cx="349.76" cy="310.24" r="1.75" fill="#e470a5"/>
<circle cx="341.81" cy="314.15" r="1.75" fill="#53cf88"/>
<circle cx="333.62" cy="317.27" r="1.75" fill="#53cf88"/>
<circle cx="324.92" cy="320.1" r="1.75" fill="#3bd38a"/>
<circle cx="311.59" cy="327.2" r="1.75" fill="#53cf88"/>
<circle cx="298.71" cy="329.46" r="1.75" fill="#cda87a"/>
<circle cx="289.59" cy="327" r="1.75" fill="#cda87a"/>
<circle cx="276.09" cy="323.72" r="1.75" fill="#cda87a"/>
<circle cx="269.32" cy="316.88" r="1.75" fill="#db8694"/>
<circle cx="263.55" cy="307.83" r="1.75" fill="#e470a5"/>
<circle cx="261.85" cy="296.34" r="1.75" fill="#ff1400"/>
<circle cx="267.38" cy="290.33" r="1.75" fill="#ff4a00"/>
<circle cx="273.8" cy="291.2" r="2" fill="#9a9a9a" stroke="#222" stroke-width="0.7"/>
</g>
<g font-size="7.3" fill="#111" stroke="#111" stroke-width="0.22">
<text transform="translate(374.58 280.96) rotate(-3.56)" dy="0.35em">B_plicatilis</text>
<text transform="translate(378.21 274.13) rotate(-7.13)" dy="0.35em">AQ_W13_GU232548</text>
<text transform="translate(372.6 268.81) rotate(-10.69)" dy="0.35em">JYCSH3</text>
<text transform="translate(371.05 262.85) rotate(-14.26)" dy="0.35em">YCSH14</text>
<text transform="translate(369.15 256.99) rotate(-17.82)" dy="0.35em">YL02_57</text>
<text transform="translate(366.89 251.26) rotate(-21.39)" dy="0.35em">YCSH2</text>
<text transform="translate(364.3 245.68) rotate(-24.95)" dy="0.35em">JH03_14</text>
<text transform="translate(361.36 240.26) rotate(-28.51)" dy="0.35em">JH12_25</text>
<text transform="translate(358.1 235.04) rotate(-32.08)" dy="0.35em">JH02_41</text>
<text transform="translate(354.54 230.02) rotate(-35.64)" dy="0.35em">JYCSH2</text>
<text transform="translate(350.67 225.22) rotate(-39.21)" dy="0.35em">JH01_27</text>
<text transform="translate(346.52 220.67) rotate(-42.77)" dy="0.35em">JH01_2</text>
<text transform="translate(342.1 216.38) rotate(-46.34)" dy="0.35em">YCSH15</text>
<text transform="translate(337.42 212.37) rotate(-49.9)" dy="0.35em">JYCSH5</text>
<text transform="translate(332.52 208.65) rotate(-53.47)" dy="0.35em">YCSH1</text>
<text transform="translate(327.39 205.24) rotate(-57.03)" dy="0.35em">YL12_17</text>
<text transform="translate(322.07 202.14) rotate(-60.59)" dy="0.35em">YCSH12</text>
<text transform="translate(316.57 199.37) rotate(-64.16)" dy="0.35em">YCSH4</text>
<text transform="translate(311.71 194.89) rotate(-67.72)" dy="0.35em">DZ_W2_GU232575</text>
<text transform="translate(305.11 194.86) rotate(-71.29)" dy="0.35em">JH03_40</text>
<text transform="translate(299.2 193.14) rotate(-74.85)" dy="0.35em">YCSH13</text>
<text transform="translate(293.19 191.77) rotate(-78.42)" dy="0.35em">YL11_3</text>
<text transform="translate(287.11 190.78) rotate(-81.98)" dy="0.35em">YL12_12</text>
<text transform="translate(280.99 190.16) rotate(-85.54)" dy="0.35em">YL12_5</text>
<text transform="translate(274.83 189.91) rotate(-89.11)" dy="0.35em">JYCSH6</text>
<text transform="translate(268.67 190.03) rotate(87.33)" text-anchor="end" dy="0.35em">JCSH2</text>
<text transform="translate(262.54 190.53) rotate(83.76)" text-anchor="end" dy="0.35em">JH03_6</text>
<text transform="translate(256.44 191.4) rotate(80.2)" text-anchor="end" dy="0.35em">YL02_83</text>
<text transform="translate(250.41 192.64) rotate(76.63)" text-anchor="end" dy="0.35em">YL12_14</text>
<text transform="translate(244.46 194.24) rotate(73.07)" text-anchor="end" dy="0.35em">YL02_67</text>
<text transform="translate(238.62 196.2) rotate(69.5)" text-anchor="end" dy="0.35em">YL12_4</text>
<text transform="translate(232.91 198.52) rotate(65.94)" text-anchor="end" dy="0.35em">YCSH10</text>
<text transform="translate(227.36 201.17) rotate(62.38)" text-anchor="end" dy="0.35em">YCSH9</text>
<text transform="translate(221.97 204.16) rotate(58.81)" text-anchor="end" dy="0.35em">YL12_27</text>
<text transform="translate(216.78 207.47) rotate(55.25)" text-anchor="end" dy="0.35em">JYCSH4</text>
<text transform="translate(211.8 211.09) rotate(51.68)" text-anchor="end" dy="0.35em">YL01_7</text>
<text transform="translate(207.04 215.01) rotate(48.12)" text-anchor="end" dy="0.35em">YL12_37</text>
<text transform="translate(202.54 219.21) rotate(44.55)" text-anchor="end" dy="0.35em">YL12_39</text>
<text transform="translate(195.76 221.4) rotate(40.99)" text-anchor="end" dy="0.35em">XZ_W2_GU232725</text>
<text transform="translate(194.33 228.38) rotate(37.43)" text-anchor="end" dy="0.35em">YCSH11</text>
<text transform="translate(190.66 233.33) rotate(33.86)" text-anchor="end" dy="0.35em">YCSH7</text>
<text transform="translate(187.29 238.49) rotate(30.3)" text-anchor="end" dy="0.35em">YCSH3</text>
<text transform="translate(184.25 243.84) rotate(26.73)" text-anchor="end" dy="0.35em">JN11_26</text>
<text transform="translate(181.54 249.37) rotate(23.17)" text-anchor="end" dy="0.35em">JN02_5</text>
<text transform="translate(179.17 255.06) rotate(19.6)" text-anchor="end" dy="0.35em">HCSR3</text>
<text transform="translate(177.15 260.87) rotate(16.04)" text-anchor="end" dy="0.35em">JN01_20</text>
<text transform="translate(175.48 266.8) rotate(12.48)" text-anchor="end" dy="0.35em">HCSH4</text>
<text transform="translate(174.18 272.82) rotate(8.91)" text-anchor="end" dy="0.35em">JN11_11</text>
<text transform="translate(173.25 278.91) rotate(5.35)" text-anchor="end" dy="0.35em">JN11_39</text>
<text transform="translate(172.69 285.04) rotate(1.78)" text-anchor="end" dy="0.35em">JH06_21</text>
<text transform="translate(169.1 291.2) rotate(-1.78)" text-anchor="end" dy="0.35em">WH_S23_FJ826934</text>
<text transform="translate(172.69 297.36) rotate(-5.35)" text-anchor="end" dy="0.35em">JCSH12</text>
<text transform="translate(173.25 303.49) rotate(-8.91)" text-anchor="end" dy="0.35em">JCSH6</text>
<text transform="translate(174.18 309.58) rotate(-12.48)" text-anchor="end" dy="0.35em">JHCSH1</text>
<text transform="translate(175.48 315.6) rotate(-16.04)" text-anchor="end" dy="0.35em">JCSH7</text>
<text transform="translate(177.15 321.53) rotate(-19.6)" text-anchor="end" dy="0.35em">JCSH9</text>
<text transform="translate(179.17 327.34) rotate(-23.17)" text-anchor="end" dy="0.35em">JH08_11</text>
<text transform="translate(181.54 333.03) rotate(-26.73)" text-anchor="end" dy="0.35em">JN11_4</text>
<text transform="translate(184.25 338.56) rotate(-30.3)" text-anchor="end" dy="0.35em">HCSR2</text>
<text transform="translate(187.29 343.91) rotate(-33.86)" text-anchor="end" dy="0.35em">YL05_17</text>
<text transform="translate(190.66 349.07) rotate(-37.43)" text-anchor="end" dy="0.35em">HYCSH2</text>
<text transform="translate(194.33 354.02) rotate(-40.99)" text-anchor="end" dy="0.35em">JN01_12</text>
<text transform="translate(198.29 358.73) rotate(-44.55)" text-anchor="end" dy="0.35em">YL08_40</text>
<text transform="translate(202.54 363.19) rotate(-48.12)" text-anchor="end" dy="0.35em">YL05_1</text>
<text transform="translate(204.67 370.1) rotate(-51.68)" text-anchor="end" dy="0.35em">TJ_S10_FJ826930</text>
<text transform="translate(211.8 371.31) rotate(-55.25)" text-anchor="end" dy="0.35em">ACSH</text>
<text transform="translate(216.78 374.93) rotate(-58.81)" text-anchor="end" dy="0.35em">HYCSH1</text>
<text transform="translate(221.97 378.24) rotate(-62.38)" text-anchor="end" dy="0.35em">HYCSH3</text>
<text transform="translate(227.36 381.23) rotate(-65.94)" text-anchor="end" dy="0.35em">YL06_10</text>
<text transform="translate(232.91 383.88) rotate(-69.5)" text-anchor="end" dy="0.35em">HCSH1</text>
<text transform="translate(238.62 386.2) rotate(-73.07)" text-anchor="end" dy="0.35em">JN04_23</text>
<text transform="translate(244.46 388.16) rotate(-76.63)" text-anchor="end" dy="0.35em">JN11_44</text>
<text transform="translate(250.41 389.76) rotate(-80.2)" text-anchor="end" dy="0.35em">JHCSH3</text>
<text transform="translate(256.44 391) rotate(-83.76)" text-anchor="end" dy="0.35em">JN10_39</text>
<text transform="translate(262.54 391.87) rotate(-87.33)" text-anchor="end" dy="0.35em">JN02_45</text>
<text transform="translate(268.67 392.37) rotate(-270.89)" dy="0.35em">JN11_41</text>
<text transform="translate(274.83 392.49) rotate(-274.46)" dy="0.35em">JHCSH2</text>
<text transform="translate(280.99 392.24) rotate(-278.02)" dy="0.35em">JN10_30</text>
<text transform="translate(287.11 391.62) rotate(-281.58)" dy="0.35em">JN03_26</text>
<text transform="translate(293.19 390.63) rotate(-285.15)" dy="0.35em">JN03_5</text>
<text transform="translate(299.2 389.26) rotate(-288.71)" dy="0.35em">JCSH10</text>
<text transform="translate(305.11 387.54) rotate(-292.28)" dy="0.35em">JCSH4</text>
<text transform="translate(310.91 385.46) rotate(-295.84)" dy="0.35em">YCSH7</text>
<text transform="translate(316.57 383.03) rotate(-299.41)" dy="0.35em">YCSH8</text>
<text transform="translate(322.07 380.26) rotate(-302.97)" dy="0.35em">YL11_2</text>
<text transform="translate(327.39 377.16) rotate(-306.53)" dy="0.35em">YL07_15</text>
<text transform="translate(332.52 373.75) rotate(-310.1)" dy="0.35em">YL07_18</text>
<text transform="translate(337.42 370.03) rotate(-313.66)" dy="0.35em">YL07_11</text>
<text transform="translate(342.1 366.02) rotate(-317.23)" dy="0.35em">YL06_9</text>
<text transform="translate(346.52 361.73) rotate(-320.79)" dy="0.35em">JCSH8</text>
<text transform="translate(350.67 357.18) rotate(-324.36)" dy="0.35em">YL08_24</text>
<text transform="translate(354.54 352.38) rotate(-327.92)" dy="0.35em">JCSH11</text>
<text transform="translate(358.1 347.36) rotate(-331.49)" dy="0.35em">JCSH5</text>
<text transform="translate(361.36 342.14) rotate(-335.05)" dy="0.35em">YCSH6</text>
<text transform="translate(364.3 336.72) rotate(-338.61)" dy="0.35em">YL07_20</text>
<text transform="translate(366.89 331.14) rotate(-342.18)" dy="0.35em">JCSH3</text>
<text transform="translate(369.15 325.41) rotate(-345.74)" dy="0.35em">JCSH6</text>
<text transform="translate(371.05 319.55) rotate(-349.31)" dy="0.35em">JH06_31</text>
<text transform="translate(372.6 313.59) rotate(-352.87)" dy="0.35em">JH10_30</text>
<text transform="translate(373.77 307.54) rotate(-356.44)" dy="0.35em">JH11_24</text>
<text transform="translate(374.58 301.44) rotate(-360)" dy="0.35em">JYCSH1</text>
</g>
<defs><linearGradient id="sg" x1="0" y1="0" x2="0" y2="1">
<stop offset="0" stop-color="#ff1400"/>
<stop offset="0.13" stop-color="#ff5a00"/>
<stop offset="0.26" stop-color="#ff8200"/>
<stop offset="0.39" stop-color="#e69600"/>
<stop offset="0.52" stop-color="#c8aa00"/>
<stop offset="0.65" stop-color="#a0be0a"/>
<stop offset="0.77" stop-color="#64d714"/>
<stop offset="0.85" stop-color="#14e614"/>
<stop offset="1" stop-color="#03ea14"/>
</linearGradient></defs>
<text x="461.3" y="501.8" font-size="16.9" textLength="59.9" lengthAdjust="spacingAndGlyphs" fill="#111">support</text>
<rect x="461.1" y="513.4" width="28.2" height="139.4" fill="url(#sg)"/>
<path d="M461.1 549.1h5.6M483.7 549.1h5.6" stroke="#fff" stroke-opacity="0.45" stroke-width="0.8"/>
<path d="M461.1 585h5.6M483.7 585h5.6" stroke="#fff" stroke-opacity="0.45" stroke-width="0.8"/>
<path d="M461.1 620.9h5.6M483.7 620.9h5.6" stroke="#fff" stroke-opacity="0.45" stroke-width="0.8"/>
<text x="498.8" y="513.2" font-size="14.2" fill="#111" dy="0.36em">100</text>
<text x="498.8" y="549.1" font-size="14.2" fill="#111" dy="0.36em">75</text>
<text x="498.8" y="585" font-size="14.2" fill="#111" dy="0.36em">50</text>
<text x="498.8" y="620.9" font-size="14.2" fill="#111" dy="0.36em">25</text>
<text class="t" x="275" y="572.7" font-size="18.4" text-anchor="middle" fill="#111">nuITS1 phylogeny</text>
<g>
<path d="M499.85 799.54A229.6 229.6 0 1 0 265.99 1065.74" stroke="#0B3DA6" stroke-width="6.9" fill="none"/>
<path d="M265.99 1065.74A229.6 229.6 0 0 0 353.23 1051.45" stroke="#E60012" stroke-width="6.9" fill="none"/>
<path d="M353.23 1051.45A229.6 229.6 0 0 0 502.4 849.87" stroke="#FFAD0F" stroke-width="6.9" fill="none"/>
<path d="M489.09 801.28A218.7 218.7 0 1 0 266.33 1054.84" stroke="#0B3DA6" stroke-width="6.9" fill="none"/>
<path d="M266.33 1054.84A218.7 218.7 0 0 0 349.43 1041.23" stroke="#E60012" stroke-width="6.9" fill="none"/>
<path d="M349.43 1041.23A218.7 218.7 0 0 0 491.52 849.22" stroke="#FFAD0F" stroke-width="6.9" fill="none"/>
<path d="M478.43 803.01A207.9 207.9 0 1 0 266.67 1044.05" stroke="#0B3DA6" stroke-width="6.9" fill="none"/>
<path d="M266.67 1044.05A207.9 207.9 0 0 0 345.67 1031.11" stroke="#E60012" stroke-width="6.9" fill="none"/>
<path d="M345.67 1031.11A207.9 207.9 0 0 0 480.73 848.58" stroke="#FFAD0F" stroke-width="6.9" fill="none"/>
<path d="M467.93 806.45A197 197 0 0 0 441.53 733.9" stroke="#FBE5CE" stroke-width="6.9" fill="none"/>
<path d="M441.53 733.9A197 197 0 0 0 358.63 658.74" stroke="#18A8EC" stroke-width="6.9" fill="none"/>
<path d="M358.63 658.74A197 197 0 0 0 286.26 639.68" stroke="#0B3DA6" stroke-width="6.9" fill="none"/>
<path d="M286.26 639.68A197 197 0 0 0 246.8 641.03" stroke="#18A8EC" stroke-width="6.9" fill="none"/>
<path d="M246.8 641.03A197 197 0 0 0 110.65 724.95" stroke="#0B3DA6" stroke-width="6.9" fill="none"/>
<path d="M110.65 724.95A197 197 0 0 0 90.29 763.09" stroke="#18A8EC" stroke-width="6.9" fill="none"/>
<path d="M90.29 763.09A197 197 0 0 0 77.14 817.03" stroke="#0B3DA6" stroke-width="6.9" fill="none"/>
<path d="M77.14 817.03A197 197 0 0 0 76.2 836.59" stroke="#FFF71C" stroke-width="6.9" fill="none"/>
<path d="M76.2 836.59A197 197 0 0 0 107.98 943.54" stroke="#A9BDA7" stroke-width="6.9" fill="none"/>
<path d="M107.98 943.54A197 197 0 0 0 193.39 1016.36" stroke="#70D23C" stroke-width="6.9" fill="none"/>
<path d="M193.39 1016.36A197 197 0 0 0 267.01 1033.15" stroke="#A9BDA7" stroke-width="6.9" fill="none"/>
<path d="M267.01 1033.15A197 197 0 0 0 341.87 1020.89" stroke="#E60012" stroke-width="6.9" fill="none"/>
<path d="M341.87 1020.89A197 197 0 0 0 469.85 847.93" stroke="#FFAD0F" stroke-width="6.9" fill="none"/>
</g>
<text class="b" transform="translate(497.6 803.9) rotate(79.5)" font-size="11.8" textLength="35.7" lengthAdjust="spacingAndGlyphs" fill="#000" stroke="#000" stroke-width="0.7">BEAST</text>
<text class="b" transform="translate(486 805.2) rotate(79.5)" font-size="11.8" textLength="33.5" lengthAdjust="spacingAndGlyphs" fill="#000" stroke="#000" stroke-width="0.7">ABGD</text>
<text class="b" transform="translate(475.9 807) rotate(79.5)" font-size="11.8" textLength="21.2" lengthAdjust="spacingAndGlyphs" fill="#000" stroke="#000" stroke-width="0.7">PTP</text>
<text class="b" transform="translate(464.5 808.8) rotate(79.5)" font-size="11.8" textLength="36.1" lengthAdjust="spacingAndGlyphs" fill="#000" stroke="#000" stroke-width="0.7">GMYC</text>
<g transform="translate(39.18 727.62) rotate(-65.1)">
<text class="b" font-size="24.5" text-anchor="middle" dy="0.36em" fill="#0B3DA6" stroke="#0B3DA6" stroke-width="0.7">C</text>
</g>
<g transform="translate(310.36 1089.44) rotate(-188.35)">
<text class="b" font-size="25.5" text-anchor="middle" dy="0.36em" fill="#E60012" stroke="#E60012" stroke-width="0.7">A</text>
</g>
<g transform="translate(475.12 992.31) rotate(-232.3)">
<text class="b" font-size="22.5" text-anchor="middle" dy="0.36em" fill="#FFAD0F" stroke="#FFAD0F" stroke-width="0.7">D</text>
</g>
<g>
<path d="M359.27 818.94A88.1 88.1 0 0 0 185.69 823.82L262.07 834.75A10.95 10.95 0 0 1 283.63 834.14Z" fill="#A9E0F9" fill-opacity="1"/>
<path d="M185.78 823.21A88.1 88.1 0 0 0 234 915.35L256.8 869.02A36.47 36.47 0 0 1 236.84 830.88Z" fill="#A9E0F9" fill-opacity="1"/>
<path d="M233.45 915.07A88.1 88.1 0 0 0 241.8 918.73L255.6 882.15A49 49 0 0 1 250.96 880.11Z" fill="#A9E0F9" fill-opacity="1"/>
<path d="M241.23 918.51A88.1 88.1 0 0 0 266.65 924.18L269.28 887.22A51.05 51.05 0 0 1 254.55 883.94Z" fill="#A9E0F9" fill-opacity="1"/>
<path d="M266.65 924.18A88.1 88.1 0 0 0 300.22 920.06L288.73 884.83A51.05 51.05 0 0 1 269.28 887.22Z" fill="#FDB8AD" fill-opacity="1"/>
<path d="M300.22 920.06A88.1 88.1 0 0 0 360.59 844.78L312.83 840.16A40.11 40.11 0 0 1 285.34 874.44Z" fill="#FDE596" fill-opacity="1"/>
</g>
<g fill="none" stroke-linecap="butt">
<path d="M272.9 836.3L359.42 823.22" stroke="#000" stroke-width="1.55"/>
<path d="M272.9 836.3L282.24 830.6" stroke="#000" stroke-width="1.55"/>
<path d="M282.24 830.6L291.59 824.9" stroke="#1B587C" stroke-width="1.25"/>
<path d="M293.68 829.43A21.89 21.89 0 0 0 288.51 820.96" stroke="#1B587C" stroke-width="1.25"/>
<path d="M293.68 829.43L342.14 813.42" stroke="#1B587C" stroke-width="1.25"/>
<path d="M343.61 818.49A72.92 72.92 0 0 0 340.3 808.47" stroke="#1B587C" stroke-width="1.25"/>
<path d="M343.61 818.49L357.75 814.93" stroke="#1B587C" stroke-width="1.25"/>
<path d="M340.3 808.47L347.04 805.69" stroke="#1B587C" stroke-width="1.25"/>
<path d="M348.43 809.3A80.21 80.21 0 0 0 345.47 802.15" stroke="#1B587C" stroke-width="1.25"/>
<path d="M348.43 809.3L355.3 806.85" stroke="#1B587C" stroke-width="1.25"/>
<path d="M345.47 802.15L352.07 799.04" stroke="#1B587C" stroke-width="1.25"/>
<path d="M288.51 820.96L293.71 815.85" stroke="#1B587C" stroke-width="1.25"/>
<path d="M297.98 821.39A29.18 29.18 0 0 0 288.25 811.49" stroke="#1B587C" stroke-width="1.25"/>
<path d="M297.98 821.39L348.11 791.58" stroke="#1B587C" stroke-width="1.25"/>
<path d="M288.25 811.49L292.09 805.29" stroke="#1B587C" stroke-width="1.25"/>
<path d="M300.38 812.32A36.47 36.47 0 0 0 282.09 801.01" stroke="#1B587C" stroke-width="1.25"/>
<path d="M300.38 812.32L322.35 793.15" stroke="#1B587C" stroke-width="1.25"/>
<path d="M325.81 797.47A65.63 65.63 0 0 0 318.53 789.13" stroke="#1B587C" stroke-width="1.25"/>
<path d="M325.81 797.47L343.45 784.54" stroke="#1B587C" stroke-width="1.25"/>
<path d="M318.53 789.13L323.6 783.89" stroke="#1B587C" stroke-width="1.25"/>
<path d="M327.26 787.69A72.92 72.92 0 0 0 319.67 780.35" stroke="#1B587C" stroke-width="1.25"/>
<path d="M327.26 787.69L338.13 777.97" stroke="#1B587C" stroke-width="1.25"/>
<path d="M319.67 780.35L324.35 774.76" stroke="#1B587C" stroke-width="1.25"/>
<path d="M327.26 777.32A80.21 80.21 0 0 0 321.31 772.35" stroke="#1B587C" stroke-width="1.25"/>
<path d="M327.26 777.32L332.2 771.96" stroke="#1B587C" stroke-width="1.25"/>
<path d="M321.31 772.35L325.71 766.54" stroke="#1B587C" stroke-width="1.25"/>
<path d="M282.09 801.01L283.93 793.95" stroke="#1B587C" stroke-width="1.25"/>
<path d="M295.83 799.03A43.76 43.76 0 0 0 271.08 792.58" stroke="#1B587C" stroke-width="1.25"/>
<path d="M295.83 799.03L318.74 761.77" stroke="#1B587C" stroke-width="1.25"/>
<path d="M271.08 792.58L270.77 785.29" stroke="#1B587C" stroke-width="1.25"/>
<path d="M291.95 788.94A51.05 51.05 0 0 0 249.97 790.69" stroke="#1B587C" stroke-width="1.25"/>
<path d="M291.95 788.94L300.11 768.65" stroke="#1B587C" stroke-width="1.25"/>
<path d="M304.93 770.79A72.92 72.92 0 0 0 295.14 766.85" stroke="#1B587C" stroke-width="1.25"/>
<path d="M304.93 770.79L311.34 757.7" stroke="#1B587C" stroke-width="1.25"/>
<path d="M295.14 766.85L297.37 759.91" stroke="#1B587C" stroke-width="1.25"/>
<path d="M301.02 761.18A80.21 80.21 0 0 0 293.65 758.82" stroke="#1B587C" stroke-width="1.25"/>
<path d="M301.02 761.18L303.58 754.36" stroke="#1B587C" stroke-width="1.25"/>
<path d="M293.65 758.82L295.53 751.78" stroke="#1B587C" stroke-width="1.25"/>
<path d="M249.97 790.69L246.7 784.17" stroke="#1B587C" stroke-width="1.25"/>
<path d="M278.3 778.21A58.34 58.34 0 0 0 221.16 809.35" stroke="#1B587C" stroke-width="1.25"/>
<path d="M278.3 778.21L279.65 763.69" stroke="#1B587C" stroke-width="1.25"/>
<path d="M284.88 764.37A72.92 72.92 0 0 0 274.37 763.39" stroke="#1B587C" stroke-width="1.25"/>
<path d="M284.88 764.37L287.28 749.99" stroke="#1B587C" stroke-width="1.25"/>
<path d="M274.37 763.39L274.52 756.11" stroke="#1B587C" stroke-width="1.25"/>
<path d="M278.39 756.28A80.21 80.21 0 0 0 270.65 756.12" stroke="#1B587C" stroke-width="1.25"/>
<path d="M278.39 756.28L278.89 749.01" stroke="#1B587C" stroke-width="1.25"/>
<path d="M270.65 756.12L270.44 748.83" stroke="#1B587C" stroke-width="1.25"/>
<path d="M260.78 779.23L259.27 772.1" stroke="#1B587C" stroke-width="1.25"/>
<path d="M264.74 771.18A65.63 65.63 0 0 0 253.9 773.48" stroke="#1B587C" stroke-width="1.25"/>
<path d="M264.74 771.18L262.02 749.48" stroke="#1B587C" stroke-width="1.25"/>
<path d="M253.9 773.48L251.79 766.5" stroke="#1B587C" stroke-width="1.25"/>
<path d="M256.9 765.16A72.92 72.92 0 0 0 246.79 768.21" stroke="#1B587C" stroke-width="1.25"/>
<path d="M256.9 765.16L253.7 750.93" stroke="#1B587C" stroke-width="1.25"/>
<path d="M246.79 768.21L244.18 761.41" stroke="#1B587C" stroke-width="1.25"/>
<path d="M247.83 760.11A80.21 80.21 0 0 0 240.6 762.88" stroke="#1B587C" stroke-width="1.25"/>
<path d="M247.83 760.11L245.55 753.18" stroke="#1B587C" stroke-width="1.25"/>
<path d="M240.6 762.88L237.67 756.21" stroke="#1B587C" stroke-width="1.25"/>
<path d="M237.32 790.07L228.43 778.51" stroke="#1B587C" stroke-width="1.25"/>
<path d="M234.21 774.49A72.92 72.92 0 0 0 223.06 783.07" stroke="#1B587C" stroke-width="1.25"/>
<path d="M234.21 774.49L230.34 768.31" stroke="#1B587C" stroke-width="1.25"/>
<path d="M233.67 766.34A80.21 80.21 0 0 0 227.11 770.45" stroke="#1B587C" stroke-width="1.25"/>
<path d="M233.67 766.34L230.11 759.98" stroke="#1B587C" stroke-width="1.25"/>
<path d="M227.11 770.45L222.95 764.46" stroke="#1B587C" stroke-width="1.25"/>
<path d="M223.06 783.07L218.08 777.75" stroke="#1B587C" stroke-width="1.25"/>
<path d="M220.97 775.17A80.21 80.21 0 0 0 215.32 780.46" stroke="#1B587C" stroke-width="1.25"/>
<path d="M220.97 775.17L216.25 769.61" stroke="#1B587C" stroke-width="1.25"/>
<path d="M215.32 780.46L210.08 775.39" stroke="#1B587C" stroke-width="1.25"/>
<path d="M221.16 809.35L214.69 805.98" stroke="#1B587C" stroke-width="1.25"/>
<path d="M219.68 797.89A65.63 65.63 0 0 0 210.93 814.7" stroke="#1B587C" stroke-width="1.25"/>
<path d="M219.68 797.89L207.86 789.36" stroke="#1B587C" stroke-width="1.25"/>
<path d="M210.2 786.28A80.21 80.21 0 0 0 205.67 792.56" stroke="#1B587C" stroke-width="1.25"/>
<path d="M210.2 786.28L204.5 781.73" stroke="#1B587C" stroke-width="1.25"/>
<path d="M205.67 792.56L199.56 788.58" stroke="#1B587C" stroke-width="1.25"/>
<path d="M210.93 814.7L204.04 812.3" stroke="#1B587C" stroke-width="1.25"/>
<path d="M206.68 805.77A72.92 72.92 0 0 0 202.05 819.05" stroke="#1B587C" stroke-width="1.25"/>
<path d="M206.68 805.77L200.06 802.72" stroke="#1B587C" stroke-width="1.25"/>
<path d="M201.76 799.24A80.21 80.21 0 0 0 198.52 806.28" stroke="#1B587C" stroke-width="1.25"/>
<path d="M201.76 799.24L195.3 795.88" stroke="#1B587C" stroke-width="1.25"/>
<path d="M198.52 806.28L191.76 803.55" stroke="#1B587C" stroke-width="1.25"/>
<path d="M202.05 819.05L194.97 817.33" stroke="#1B587C" stroke-width="1.25"/>
<path d="M195.97 813.59A80.21 80.21 0 0 0 194.14 821.11" stroke="#1B587C" stroke-width="1.25"/>
<path d="M195.97 813.59L188.98 811.52" stroke="#1B587C" stroke-width="1.25"/>
<path d="M194.14 821.11L186.98 819.73" stroke="#1B587C" stroke-width="1.25"/>
<path d="M272.9 836.3L266.19 839.19" stroke="#000" stroke-width="1.55"/>
<path d="M265.62 835.61A7.31 7.31 0 0 0 268.4 842.06" stroke="#000" stroke-width="1.55"/>
<path d="M265.62 835.61L236.59 832.88" stroke="#000" stroke-width="1.55"/>
<path d="M236.59 832.88L185.79 828.1" stroke="#1B587C" stroke-width="1.25"/>
<path d="M268.4 842.06L263.91 847.81" stroke="#000" stroke-width="1.55"/>
<path d="M259.66 842.44A14.6 14.6 0 0 0 270.14 850.64" stroke="#000" stroke-width="1.55"/>
<path d="M259.66 842.44L239.82 851.65" stroke="#000" stroke-width="1.55"/>
<path d="M239.82 851.65L219.98 860.85" stroke="#1B587C" stroke-width="1.25"/>
<path d="M214.64 839.27A58.34 58.34 0 0 0 234.83 880.51" stroke="#1B587C" stroke-width="1.25"/>
<path d="M214.64 839.27L192.79 840.39" stroke="#1B587C" stroke-width="1.25"/>
<path d="M192.69 836.52A80.21 80.21 0 0 0 193.08 844.25" stroke="#1B587C" stroke-width="1.25"/>
<path d="M192.69 836.52L185.4 836.54" stroke="#1B587C" stroke-width="1.25"/>
<path d="M193.08 844.25L185.83 844.97" stroke="#1B587C" stroke-width="1.25"/>
<path d="M216.65 851.77L202.59 855.63" stroke="#1B587C" stroke-width="1.25"/>
<path d="M201.37 850.49A72.92 72.92 0 0 0 204.17 860.67" stroke="#1B587C" stroke-width="1.25"/>
<path d="M201.37 850.49L187.07 853.33" stroke="#1B587C" stroke-width="1.25"/>
<path d="M204.17 860.67L197.3 863.1" stroke="#1B587C" stroke-width="1.25"/>
<path d="M196.1 859.42A80.21 80.21 0 0 0 198.68 866.72" stroke="#1B587C" stroke-width="1.25"/>
<path d="M196.1 859.42L189.12 861.53" stroke="#1B587C" stroke-width="1.25"/>
<path d="M198.68 866.72L191.94 869.49" stroke="#1B587C" stroke-width="1.25"/>
<path d="M223.41 867.19L211.04 874.91" stroke="#1B587C" stroke-width="1.25"/>
<path d="M208.41 870.34A72.92 72.92 0 0 0 214 879.29" stroke="#1B587C" stroke-width="1.25"/>
<path d="M208.41 870.34L195.52 877.14" stroke="#1B587C" stroke-width="1.25"/>
<path d="M214 879.29L208.11 883.59" stroke="#1B587C" stroke-width="1.25"/>
<path d="M205.9 880.4A80.21 80.21 0 0 0 210.47 886.66" stroke="#1B587C" stroke-width="1.25"/>
<path d="M205.9 880.4L199.82 884.41" stroke="#1B587C" stroke-width="1.25"/>
<path d="M210.47 886.66L204.8 891.24" stroke="#1B587C" stroke-width="1.25"/>
<path d="M234.83 880.51L230.08 886.03" stroke="#1B587C" stroke-width="1.25"/>
<path d="M226.03 882.24A65.63 65.63 0 0 0 234.43 889.47" stroke="#1B587C" stroke-width="1.25"/>
<path d="M226.03 882.24L210.41 897.55" stroke="#1B587C" stroke-width="1.25"/>
<path d="M234.43 889.47L230.15 895.38" stroke="#1B587C" stroke-width="1.25"/>
<path d="M225.99 892.13A72.92 72.92 0 0 0 234.54 898.32" stroke="#1B587C" stroke-width="1.25"/>
<path d="M225.99 892.13L216.61 903.29" stroke="#1B587C" stroke-width="1.25"/>
<path d="M234.54 898.32L230.71 904.51" stroke="#1B587C" stroke-width="1.25"/>
<path d="M227.46 902.4A80.21 80.21 0 0 0 234.05 906.47" stroke="#1B587C" stroke-width="1.25"/>
<path d="M227.46 902.4L223.33 908.41" stroke="#1B587C" stroke-width="1.25"/>
<path d="M234.05 906.47L230.52 912.85" stroke="#1B587C" stroke-width="1.25"/>
<path d="M270.14 850.64L268.77 857.8" stroke="#000" stroke-width="1.55"/>
<path d="M264.19 856.38A21.89 21.89 0 0 0 273.54 858.18" stroke="#000" stroke-width="1.55"/>
<path d="M264.19 856.38L253.41 881.26" stroke="#000" stroke-width="1.55"/>
<path d="M253.41 881.26L238.1 916.58" stroke="#1B587C" stroke-width="1.25"/>
<path d="M273.54 858.18L273.76 865.47" stroke="#000" stroke-width="1.55"/>
<path d="M265.96 864.64A29.18 29.18 0 0 0 281.49 864.19" stroke="#000" stroke-width="1.55"/>
<path d="M265.96 864.64L260.76 885.89" stroke="#000" stroke-width="1.55"/>
<path d="M260.76 885.89L255.56 907.13" stroke="#1B587C" stroke-width="1.25"/>
<path d="M250.48 905.69A72.92 72.92 0 0 0 260.74 908.2" stroke="#1B587C" stroke-width="1.25"/>
<path d="M250.48 905.69L246 919.56" stroke="#1B587C" stroke-width="1.25"/>
<path d="M260.74 908.2L259.52 915.39" stroke="#1B587C" stroke-width="1.25"/>
<path d="M255.72 914.65A80.21 80.21 0 0 0 263.35 915.94" stroke="#1B587C" stroke-width="1.25"/>
<path d="M255.72 914.65L254.16 921.77" stroke="#1B587C" stroke-width="1.25"/>
<path d="M263.35 915.94L262.49 923.18" stroke="#1B587C" stroke-width="1.25"/>
<path d="M281.49 864.19L283.63 871.15" stroke="#000" stroke-width="1.55"/>
<path d="M275.15 872.7A36.47 36.47 0 0 0 291.51 867.66" stroke="#000" stroke-width="1.55"/>
<path d="M275.15 872.7L276.05 887.25" stroke="#000" stroke-width="1.55"/>
<path d="M276.05 887.25L276.95 901.8" stroke="#A8362E" stroke-width="1.25"/>
<path d="M271.41 901.91A65.63 65.63 0 0 0 282.47 901.23" stroke="#A8362E" stroke-width="1.25"/>
<path d="M271.41 901.91L270.91 923.78" stroke="#A8362E" stroke-width="1.25"/>
<path d="M282.47 901.23L283.53 908.44" stroke="#A8362E" stroke-width="1.25"/>
<path d="M278.28 909.02A72.92 72.92 0 0 0 288.72 907.48" stroke="#A8362E" stroke-width="1.25"/>
<path d="M278.28 909.02L279.36 923.56" stroke="#A8362E" stroke-width="1.25"/>
<path d="M288.72 907.48L290.31 914.6" stroke="#A8362E" stroke-width="1.25"/>
<path d="M286.51 915.35A80.21 80.21 0 0 0 294.07 913.67" stroke="#A8362E" stroke-width="1.25"/>
<path d="M286.51 915.35L287.74 922.53" stroke="#A8362E" stroke-width="1.25"/>
<path d="M294.07 913.67L295.99 920.7" stroke="#A8362E" stroke-width="1.25"/>
<path d="M291.51 867.66L293.38 870.8" stroke="#000" stroke-width="1.55"/>
<path d="M293.38 870.8L295.24 873.93" stroke="#8A7720" stroke-width="1.25"/>
<path d="M288.46 877.2A43.76 43.76 0 0 0 301.35 869.55" stroke="#8A7720" stroke-width="1.25"/>
<path d="M288.46 877.2L304.02 918.08" stroke="#8A7720" stroke-width="1.25"/>
<path d="M301.35 869.55L306.09 875.09" stroke="#8A7720" stroke-width="1.25"/>
<path d="M295.57 882.04A51.05 51.05 0 0 0 314.58 865.78" stroke="#8A7720" stroke-width="1.25"/>
<path d="M295.57 882.04L311.76 914.7" stroke="#8A7720" stroke-width="1.25"/>
<path d="M314.58 865.78L320.53 869.99" stroke="#8A7720" stroke-width="1.25"/>
<path d="M311.09 880.4A58.34 58.34 0 0 0 327.2 857.62" stroke="#8A7720" stroke-width="1.25"/>
<path d="M311.09 880.4L315.87 885.91" stroke="#8A7720" stroke-width="1.25"/>
<path d="M310.23 890.28A65.63 65.63 0 0 0 320.99 880.96" stroke="#8A7720" stroke-width="1.25"/>
<path d="M310.23 890.28L318.53 902.27" stroke="#8A7720" stroke-width="1.25"/>
<path d="M315.29 904.39A80.21 80.21 0 0 0 321.66 899.99" stroke="#8A7720" stroke-width="1.25"/>
<path d="M315.29 904.39L319.14 910.58" stroke="#8A7720" stroke-width="1.25"/>
<path d="M321.66 899.99L326.09 905.78" stroke="#8A7720" stroke-width="1.25"/>
<path d="M320.99 880.96L326.33 885.92" stroke="#8A7720" stroke-width="1.25"/>
<path d="M322.6 889.66A72.92 72.92 0 0 0 329.79 881.92" stroke="#8A7720" stroke-width="1.25"/>
<path d="M322.6 889.66L332.54 900.32" stroke="#8A7720" stroke-width="1.25"/>
<path d="M329.79 881.92L335.47 886.48" stroke="#8A7720" stroke-width="1.25"/>
<path d="M332.98 889.44A80.21 80.21 0 0 0 337.82 883.4" stroke="#8A7720" stroke-width="1.25"/>
<path d="M332.98 889.44L338.44 894.27" stroke="#8A7720" stroke-width="1.25"/>
<path d="M337.82 883.4L343.72 887.68" stroke="#8A7720" stroke-width="1.25"/>
<path d="M327.2 857.62L333.99 860.28" stroke="#8A7720" stroke-width="1.25"/>
<path d="M331.03 866.77A65.63 65.63 0 0 0 336.23 853.52" stroke="#8A7720" stroke-width="1.25"/>
<path d="M331.03 866.77L343.94 873.54" stroke="#8A7720" stroke-width="1.25"/>
<path d="M342.06 876.92A80.21 80.21 0 0 0 345.66 870.06" stroke="#8A7720" stroke-width="1.25"/>
<path d="M342.06 876.92L348.35 880.61" stroke="#8A7720" stroke-width="1.25"/>
<path d="M345.66 870.06L352.27 873.13" stroke="#8A7720" stroke-width="1.25"/>
<path d="M336.23 853.52L343.27 855.43" stroke="#8A7720" stroke-width="1.25"/>
<path d="M341.7 860.47A72.92 72.92 0 0 0 344.47 850.29" stroke="#8A7720" stroke-width="1.25"/>
<path d="M341.7 860.47L355.45 865.31" stroke="#8A7720" stroke-width="1.25"/>
<path d="M344.47 850.29L351.62 851.69" stroke="#8A7720" stroke-width="1.25"/>
<path d="M350.79 855.47A80.21 80.21 0 0 0 352.27 847.87" stroke="#8A7720" stroke-width="1.25"/>
<path d="M350.79 855.47L357.86 857.21" stroke="#8A7720" stroke-width="1.25"/>
<path d="M352.27 847.87L359.49 848.92" stroke="#8A7720" stroke-width="1.25"/>
</g>
<g>
<circle cx="347.04" cy="805.69" r="2.2" fill="#b2b47e"/>
<circle cx="342.14" cy="813.42" r="2.2" fill="#a9b87f"/>
<circle cx="324.35" cy="774.76" r="2.2" fill="#a9b87f"/>
<circle cx="323.6" cy="783.89" r="2.2" fill="#3bd38a"/>
<circle cx="322.35" cy="793.15" r="2.2" fill="#53cf88"/>
<circle cx="297.37" cy="759.91" r="2.2" fill="#a9b87f"/>
<circle cx="300.11" cy="768.65" r="2.2" fill="#79c684"/>
<circle cx="274.52" cy="756.11" r="2.2" fill="#47d189"/>
<circle cx="279.65" cy="763.69" r="2.2" fill="#40d28a"/>
<circle cx="244.18" cy="761.41" r="2.2" fill="#47d189"/>
<circle cx="251.79" cy="766.5" r="2.2" fill="#47d189"/>
<circle cx="259.27" cy="772.1" r="2.2" fill="#47d189"/>
<circle cx="230.34" cy="768.31" r="2.2" fill="#47d189"/>
<circle cx="218.08" cy="777.75" r="2.2" fill="#47d189"/>
<circle cx="228.43" cy="778.51" r="2.2" fill="#47d189"/>
<circle cx="207.86" cy="789.36" r="2.2" fill="#40d28a"/>
<circle cx="200.06" cy="802.72" r="2.2" fill="#47d189"/>
<circle cx="194.97" cy="817.33" r="2.2" fill="#6cca86"/>
<circle cx="204.04" cy="812.3" r="2.2" fill="#47d189"/>
<circle cx="214.69" cy="805.98" r="2.2" fill="#40d28a"/>
<circle cx="246.7" cy="784.17" r="2.2" fill="#40d28a"/>
<circle cx="270.77" cy="785.29" r="2.2" fill="#3bd38a"/>
<circle cx="283.93" cy="793.95" r="2.2" fill="#3bd38a"/>
<circle cx="292.09" cy="805.29" r="2.2" fill="#3bd38a"/>
<circle cx="293.71" cy="815.85" r="2.2" fill="#3bd38a"/>
<circle cx="291.59" cy="824.9" r="2.2" fill="#47d189"/>
<circle cx="192.79" cy="840.39" r="2.2" fill="#47d189"/>
<circle cx="197.3" cy="863.1" r="2.2" fill="#53cf88"/>
<circle cx="202.59" cy="855.63" r="2.2" fill="#3bd38a"/>
<circle cx="208.11" cy="883.59" r="2.2" fill="#3bd38a"/>
<circle cx="211.04" cy="874.91" r="2.2" fill="#3bd38a"/>
<circle cx="230.71" cy="904.51" r="2.2" fill="#53cf88"/>
<circle cx="230.15" cy="895.38" r="2.2" fill="#53cf88"/>
<circle cx="230.08" cy="886.03" r="2.2" fill="#3bd38a"/>
<circle cx="219.98" cy="860.85" r="2.2" fill="#3bd38a"/>
<circle cx="259.52" cy="915.39" r="2.2" fill="#53cf88"/>
<circle cx="255.56" cy="907.13" r="2.2" fill="#53cf88"/>
<circle cx="290.31" cy="914.6" r="2.2" fill="#ff7830"/>
<circle cx="283.53" cy="908.44" r="2.2" fill="#ff6430"/>
<circle cx="276.95" cy="901.8" r="2.2" fill="#ff4f30"/>
<circle cx="318.53" cy="902.27" r="2.2" fill="#88dd1d"/>
<circle cx="335.47" cy="886.48" r="2.2" fill="#f4b012"/>
<circle cx="326.33" cy="885.92" r="2.2" fill="#c4cb18"/>
<circle cx="315.87" cy="885.91" r="2.2" fill="#88dd1d"/>
<circle cx="343.94" cy="873.54" r="2.2" fill="#f4b012"/>
<circle cx="351.62" cy="851.69" r="2.2" fill="#e7b912"/>
<circle cx="343.27" cy="855.43" r="2.2" fill="#e7b912"/>
<circle cx="333.99" cy="860.28" r="2.2" fill="#c4cb18"/>
<circle cx="320.53" cy="869.99" r="2.2" fill="#c4cb18"/>
<circle cx="306.09" cy="875.09" r="2.2" fill="#e7b912"/>
<circle cx="295.24" cy="873.93" r="2.2" fill="#ff9e12"/>
<circle cx="283.63" cy="871.15" r="2.2" fill="#96c20c"/>
<circle cx="273.76" cy="865.47" r="2.2" fill="#7dcd10"/>
<circle cx="268.77" cy="857.8" r="2.2" fill="#09e914"/>
<circle cx="263.91" cy="847.81" r="2.2" fill="#06ea14"/>
<circle cx="266.19" cy="839.19" r="2.2" fill="#06ea14"/>
<circle cx="272.9" cy="836.3" r="2" fill="#9a9a9a" stroke="#222" stroke-width="0.7"/>
</g>
<g font-size="9" fill="#111" stroke="#111" stroke-width="0.22">
<text transform="translate(362.88 822.69) rotate(-5.71)" dy="0.35em">B.plicatilis</text>
<text transform="translate(361.15 814.08) rotate(-11.43)" dy="0.35em">YL06_49</text>
<text transform="translate(358.59 805.67) rotate(-17.14)" dy="0.35em">YL06_10</text>
<text transform="translate(355.24 797.55) rotate(-22.86)" dy="0.35em">YL06_32</text>
<text transform="translate(351.12 789.79) rotate(-28.57)" dy="0.35em">YL08_30</text>
<text transform="translate(346.27 782.47) rotate(-34.29)" dy="0.35em">YISH4</text>
<text transform="translate(340.73 775.64) rotate(-40)" dy="0.35em">YL10_17</text>
<text transform="translate(334.57 769.38) rotate(-45.71)" dy="0.35em">YISH6</text>
<text transform="translate(327.83 763.75) rotate(-51.43)" dy="0.35em">YL10_8</text>
<text transform="translate(320.57 758.79) rotate(-57.14)" dy="0.35em">YISH5</text>
<text transform="translate(312.88 754.55) rotate(-62.86)" dy="0.35em">YL06_6</text>
<text transform="translate(304.81 751.08) rotate(-68.57)" dy="0.35em">YL10_12</text>
<text transform="translate(296.44 748.4) rotate(-74.29)" dy="0.35em">YL10_40</text>
<text transform="translate(288.59 742.1) rotate(-80)" dy="0.35em">TJ_S10_GU012757</text>
<text transform="translate(279.13 745.51) rotate(-85.71)" dy="0.35em">JN09_34</text>
<text transform="translate(270.34 745.34) rotate(88.57)" text-anchor="end" dy="0.35em">YL08_22</text>
<text transform="translate(261.58 746.01) rotate(82.86)" text-anchor="end" dy="0.35em">JN05_47</text>
<text transform="translate(252.93 747.52) rotate(77.14)" text-anchor="end" dy="0.35em">JN08_15</text>
<text transform="translate(244.46 749.86) rotate(71.43)" text-anchor="end" dy="0.35em">AISH1</text>
<text transform="translate(236.26 753) rotate(65.71)" text-anchor="end" dy="0.35em">JN08_29</text>
<text transform="translate(228.39 756.93) rotate(60)" text-anchor="end" dy="0.35em">YISH1</text>
<text transform="translate(220.95 761.59) rotate(54.29)" text-anchor="end" dy="0.35em">AISH4</text>
<text transform="translate(213.98 766.95) rotate(48.57)" text-anchor="end" dy="0.35em">JN08_8</text>
<text transform="translate(207.57 772.95) rotate(42.86)" text-anchor="end" dy="0.35em">YL11_12</text>
<text transform="translate(201.77 779.55) rotate(37.14)" text-anchor="end" dy="0.35em">HYISH1</text>
<text transform="translate(196.62 786.67) rotate(31.43)" text-anchor="end" dy="0.35em">JN08_10</text>
<text transform="translate(192.19 794.26) rotate(25.71)" text-anchor="end" dy="0.35em">HYISH2</text>
<text transform="translate(188.52 802.24) rotate(20)" text-anchor="end" dy="0.35em">YISH3</text>
<text transform="translate(185.62 810.53) rotate(14.29)" text-anchor="end" dy="0.35em">HISH2</text>
<text transform="translate(183.55 819.07) rotate(8.57)" text-anchor="end" dy="0.35em">JN05_20</text>
<text transform="translate(182.3 827.77) rotate(2.86)" text-anchor="end" dy="0.35em">JHISH2</text>
<text transform="translate(181.9 836.54) rotate(-2.86)" text-anchor="end" dy="0.35em">JH10_14</text>
<text transform="translate(182.35 845.32) rotate(-8.57)" text-anchor="end" dy="0.35em">JH10_30</text>
<text transform="translate(183.64 854.01) rotate(-14.29)" text-anchor="end" dy="0.35em">JISH1</text>
<text transform="translate(185.76 862.53) rotate(-20)" text-anchor="end" dy="0.35em">JISH2</text>
<text transform="translate(188.7 870.82) rotate(-25.71)" text-anchor="end" dy="0.35em">JH04_45</text>
<text transform="translate(192.42 878.77) rotate(-31.43)" text-anchor="end" dy="0.35em">JH10_28</text>
<text transform="translate(196.89 886.34) rotate(-37.14)" text-anchor="end" dy="0.35em">JH10_9</text>
<text transform="translate(202.07 893.43) rotate(-42.86)" text-anchor="end" dy="0.35em">YL07_18</text>
<text transform="translate(207.91 900) rotate(-48.57)" text-anchor="end" dy="0.35em">AISH3</text>
<text transform="translate(214.36 905.97) rotate(-54.29)" text-anchor="end" dy="0.35em">JN10_31</text>
<text transform="translate(221.35 911.29) rotate(-60)" text-anchor="end" dy="0.35em">HISH1</text>
<text transform="translate(228.82 915.91) rotate(-65.71)" text-anchor="end" dy="0.35em">JN04_1</text>
<text transform="translate(236.7 919.79) rotate(-71.43)" text-anchor="end" dy="0.35em">JN10_37</text>
<text transform="translate(244.92 922.89) rotate(-77.14)" text-anchor="end" dy="0.35em">YISH2</text>
<text transform="translate(253.41 925.19) rotate(-82.86)" text-anchor="end" dy="0.35em">AISH2</text>
<text transform="translate(262.07 926.65) rotate(-88.57)" text-anchor="end" dy="0.35em">YL06_30</text>
<text transform="translate(270.83 927.28) rotate(-274.29)" dy="0.35em">JN12_20</text>
<text transform="translate(279.62 927.05) rotate(-280)" dy="0.35em">JN12_8</text>
<text transform="translate(289.1 930.42) rotate(-285.71)" dy="0.35em">WH_S23_GU012785</text>
<text transform="translate(296.91 924.07) rotate(-291.43)" dy="0.35em">JHISH1</text>
<text transform="translate(305.27 921.35) rotate(-297.14)" dy="0.35em">YL04_27</text>
<text transform="translate(313.32 917.83) rotate(-302.86)" dy="0.35em">YL04_15</text>
<text transform="translate(320.99 913.55) rotate(-308.57)" dy="0.35em">JYISH2</text>
<text transform="translate(328.22 908.56) rotate(-314.29)" dy="0.35em">YL03_7</text>
<text transform="translate(334.93 902.89) rotate(-320)" dy="0.35em">YISH8</text>
<text transform="translate(344.43 899.58) rotate(-325.71)" dy="0.35em">XZ_W2_FJ937632</text>
<text transform="translate(346.56 889.74) rotate(-331.43)" dy="0.35em">YISH7</text>
<text transform="translate(351.37 882.39) rotate(-337.14)" dy="0.35em">JH03_29</text>
<text transform="translate(355.45 874.61) rotate(-342.86)" dy="0.35em">JH03_8</text>
<text transform="translate(363.28 868.06) rotate(-348.57)" dy="0.35em">AQ_W13_FJ937455</text>
<text transform="translate(365.92 859.19) rotate(-354.29)" dy="0.35em">DZ_W2_FJ937482</text>
<text transform="translate(362.95 849.42) rotate(-360)" dy="0.35em">JYISH1</text>
</g>
</svg></body></html>
